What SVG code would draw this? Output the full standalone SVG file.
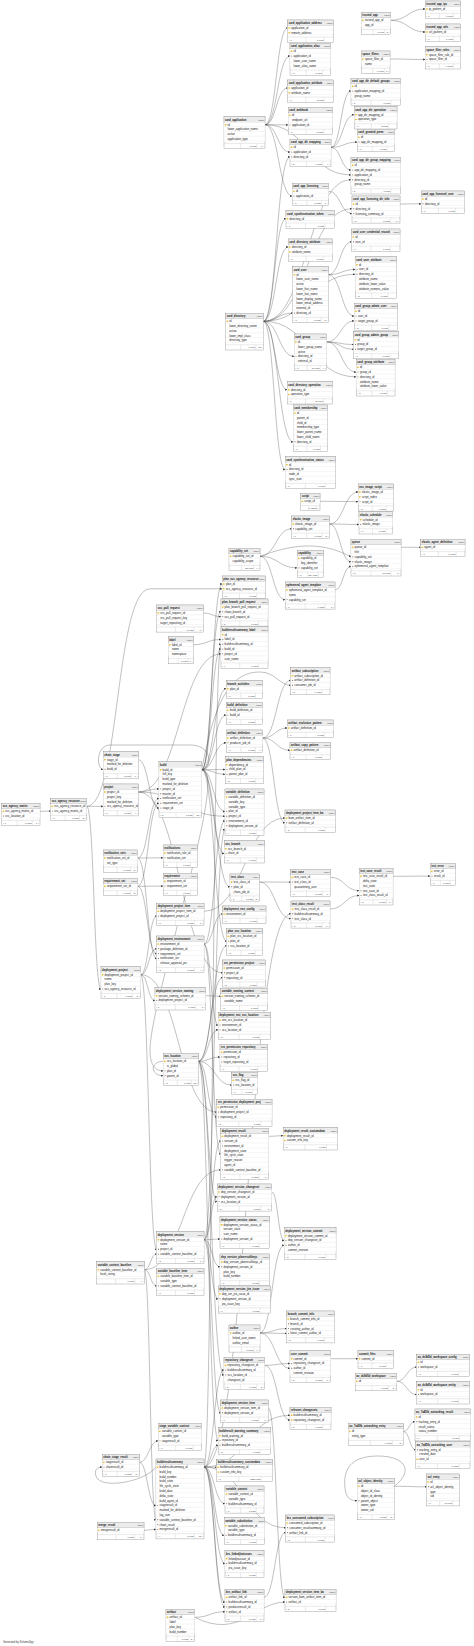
<svg xmlns="http://www.w3.org/2000/svg" xmlns:xlink="http://www.w3.org/1999/xlink" width="474" height="1646" viewBox="0 0 474 1646">
<style>
.b{fill:#fff;stroke:#8e8e8e;stroke-width:.4}
.h{fill:#ececec;stroke:#8e8e8e;stroke-width:.3}
.r{fill:url(#rp)}
.s{fill:none;stroke:#b8b8b8;stroke-width:.3}
text{font-family:"Liberation Sans",Arial,sans-serif;fill:#111}
.t{font-size:2.7px;font-weight:bold}
.x{font-size:2.1px;text-anchor:end;fill:#444}
.n{font-size:2.8px}
.f{font-size:2.2px;fill:#333}
.e{text-anchor:end}
.c path{fill:none;stroke:#4a4a4a;stroke-width:.35;marker-end:url(#a)}
</style>
<defs>
<pattern id="rp" patternUnits="userSpaceOnUse" x="0" y="5.6" width="600" height="4.8"><rect width="600" height="4.8" fill="#fff"/><path d="M0 4.7H600" stroke="#c6c6c6" stroke-width=".3"/></pattern>
<g id="k"><circle cx="1.4" r=".7" fill="#f0c419" stroke="#b08d00" stroke-width=".12"/><path d="M2 0H2.9" stroke="#c9a000" stroke-width=".4"/></g>
<path id="q" d="M1.3 -.7L2.6 0L1.3 .7z" fill="#666"/>
<marker id="a" viewBox="0 0 4 4" refX="4" refY="2" markerWidth="2.2" markerHeight="2.2" orient="auto" markerUnits="userSpaceOnUse"><path d="M0 0L4 2L0 4z" fill="#333"/></marker>
</defs>
<rect width="474" height="1646" fill="#fff"/>
<g id="connectors" class="c">
<path d="M390.7,20.3C408,20.3 408,9 425.3,9"/>
<path d="M390.7,20.3C408,20.3 408,32 425.3,32"/>
<path d="M390,59C407.6,59 407.6,59.5 425.3,59.5"/>
<path d="M265,124.7C276.4,124.7 276.3,28 287.7,28"/>
<path d="M265,124.7C277.5,124.7 277.5,56.1 290,56.1"/>
<path d="M265,124.7C276.4,124.7 276.3,88 287.7,88"/>
<path d="M265,124.7C276.7,124.7 276.7,124.9 288.3,124.9"/>
<path d="M265,124.7C277.5,124.7 277.5,152.1 290,152.1"/>
<path d="M265,124.7C278.7,124.7 278.6,196.1 292.3,196.1"/>
<path d="M265,124.7C308,124.7 308,174.9 351,174.9"/>
<path d="M331,147.3C341,147.3 341,91.1 351,91.1"/>
<path d="M331,147.3C342.7,147.3 342.6,114.7 354.3,114.7"/>
<path d="M331,147.3C344.2,147.3 344.1,142.1 357.3,142.1"/>
<path d="M331,147.3C341,147.3 341,170.1 351,170.1"/>
<path d="M328.7,191.3C340.4,191.3 340.3,213.6 352,213.6"/>
<path d="M400,204C410.7,204 410.6,203.8 421.3,203.8"/>
<path d="M263.3,321.3C276.7,321.3 276.6,156.9 290,156.9"/>
<path d="M263.3,321.3C307.2,321.3 307.1,179.7 351,179.7"/>
<path d="M263.3,321.3C307.7,321.3 307.6,208.8 352,208.8"/>
<path d="M263.3,321.3C274.7,321.3 274.6,218.7 286,218.7"/>
<path d="M263.3,321.3C275.8,321.3 275.8,247 288.3,247"/>
<path d="M263.3,321.3C278,321.3 278,313.1 292.7,313.1"/>
<path d="M263.3,321.3C309.3,321.3 309.3,274.3 355.3,274.3"/>
<path d="M263.3,321.3C278.8,321.3 278.8,356.4 294.3,356.4"/>
<path d="M263.3,321.3C309.8,321.3 309.8,376.9 356.3,376.9"/>
<path d="M263.3,321.3C275.3,321.3 275.3,389.7 287.3,389.7"/>
<path d="M263.3,321.3C278.3,321.3 278.3,441.8 293.3,441.8"/>
<path d="M263.3,321.3C274.3,321.3 274.3,469.5 285.3,469.5"/>
<path d="M328.3,274.7C340,274.7 340,241.8 351.7,241.8"/>
<path d="M328.3,274.7C341.8,274.7 341.8,269.5 355.3,269.5"/>
<path d="M328.3,274.7C341.3,274.7 341.3,316.1 354.3,316.1"/>
<path d="M326.7,342C340.5,342 340.5,320.9 354.3,320.9"/>
<path d="M326.7,342C340.2,342 340.2,344.5 353.7,344.5"/>
<path d="M326.7,342C340.2,342 340.2,349.3 353.7,349.3"/>
<path d="M326.7,342C341.5,342 341.5,372.1 356.3,372.1"/>
<path d="M320,501.3C339.2,501.3 339.2,501.6 358.3,501.6"/>
<path d="M329.3,524C343.8,524 343.8,492 358.3,492"/>
<path d="M329.3,524C344.2,524 344.2,524.5 359,524.5"/>
<path d="M329.3,524C340.2,524 340.2,561.7 351,561.7"/>
<path d="M260,556.3C275.9,556.3 275.9,528.8 291.7,528.8"/>
<path d="M260,556.3C278.7,556.3 278.7,567.9 297.3,567.9"/>
<path d="M260,556.3C290,545 320,540 351,556.9"/>
<path d="M260,556.3C272.7,556.3 272.6,599.6 285.3,599.6"/>
<path d="M335,590C343,590 343,566.5 351,566.5"/>
<path d="M401,547.3H420.7"/>
<path d="M203.3,613C212.2,613 212.1,616.6 221,616.6"/>
<path d="M193.3,644.7C207.2,644.7 207.1,639.5 221,639.5"/>
<path d="M201.7,769.7C211.4,769.7 211.3,611.8 221,611.8"/>
<path d="M201.7,769.7C212,769.7 212,584 222.3,584"/>
<path d="M201.7,769.7C211.4,769.7 211.3,649.1 221,649.1"/>
<path d="M201.7,769.7C214,769.7 214,688.7 226.3,688.7"/>
<path d="M201.7,769.7C214,769.7 214,715.1 226.3,715.1"/>
<path d="M201.7,769.7C214,769.7 214,742.8 226.3,742.8"/>
<path d="M201.7,769.7C215,700 230,672 260,672C275,672 280,685.3 290.7,685.3"/>
<path d="M201.7,769.7C213.5,769.7 213.5,769.5 225.3,769.5"/>
<path d="M201.7,769.7C213.5,769.7 213.5,774.3 225.3,774.3"/>
<path d="M201.7,769.7C213.4,769.7 213.3,811.4 225,811.4"/>
<path d="M201.7,769.7C213,769.7 213,853.5 224.3,853.5"/>
<path d="M201.7,769.7C215.9,769.7 215.8,886.8 230,886.8"/>
<path d="M201.7,769.7C214.2,769.7 214.2,941.1 226.7,941.1"/>
<path d="M201.7,769.7C212,769.7 214,745 190,745L110,745C96,745 96,769.3 103.3,769.3"/>
<path d="M201.7,769.7C230,769.7 150,1000 150,1050C150,1065 155,1070.9 163.3,1070.9"/>
<path d="M138.3,792C148.6,792 148.7,788.9 159,788.9"/>
<path d="M138.3,792C179.6,792 179.7,653.9 221,653.9"/>
<path d="M138.3,792C181.7,792 181.6,816.2 225,816.2"/>
<path d="M138.3,792C180.5,792 180.5,972.8 222.7,972.8"/>
<path d="M138.3,759.7C148.7,759.7 148.6,808.1 159,808.1"/>
<path d="M137.7,858C150.5,858 150.5,857.8 163.3,857.8"/>
<path d="M137.7,858C148.4,858 148.3,798.5 159,798.5"/>
<path d="M137.7,858C147.2,858 147.2,958.4 156.7,958.4"/>
<path d="M137.7,886.3C150.5,886.3 150.5,886.1 163.3,886.1"/>
<path d="M137.7,886.3C148.4,886.3 148.3,803.3 159,803.3"/>
<path d="M137.7,886.3C147.2,886.3 147.2,953.6 156.7,953.6"/>
<path d="M140.7,974.7C148.7,974.7 148.7,916.1 156.7,916.1"/>
<path d="M140.7,974.7C147.9,974.7 147.8,1000.5 155,1000.5"/>
<path d="M140.7,974.7C148.7,974.7 148.7,1249.3 156.7,1249.3"/>
<path d="M140.7,974.7C178.7,974.7 178.7,1112.1 216.7,1112.1"/>
<path d="M140.7,974.7C148.7,974.7 148.7,948.8 156.7,948.8"/>
<path d="M204,911.3C244.5,911.3 244.5,818 285,818"/>
<path d="M262.7,738C273.9,738 273.8,822.8 285,822.8"/>
<path d="M262.7,738C276.7,738 276.7,680.5 290.7,680.5"/>
<path d="M262.7,738C275,738 275,728 287.3,728"/>
<path d="M262.7,738C276.4,738 276.3,750.3 290,750.3"/>
<path d="M204,944C213.4,944 213.3,914 222.7,914"/>
<path d="M204,944C214.5,944 214.5,821 225,821"/>
<path d="M204,944C211.2,944 211.1,1025.1 218.3,1025.1"/>
<path d="M204,944C212.4,944 212.3,1153.9 220.7,1153.9"/>
<path d="M198.3,1061.3C212.5,1061.3 212.5,945.9 226.7,945.9"/>
<path d="M198.3,1061.3C208.3,1061.3 208.3,1029.9 218.3,1029.9"/>
<path d="M198.3,1061.3C209.2,1061.3 209.1,1057.1 220,1057.1"/>
<path d="M198.3,1061.3C215,1061.3 215,1085.1 231.7,1085.1"/>
<path d="M198.3,1061.3C207.8,1061.3 207.8,1201.6 217.3,1201.6"/>
<path d="M198.3,1061.3C211.2,1061.3 211.1,1374.9 224,1374.9"/>
<path d="M198.3,1061.3C210.5,1061.3 210.5,977.6 222.7,977.6"/>
<path d="M198.3,1061.3C207.5,1061.3 207.5,1116.9 216.7,1116.9"/>
<path d="M198.3,1061.3C208.3,1061.3 208.3,1440.5 218.3,1440.5"/>
<path d="M163.3,1061.3C150,1061.3 150,1075.7 163.3,1075.7"/>
<path d="M259.3,882C275,882 275,882.1 290.7,882.1"/>
<path d="M259.3,882C275.2,882 275.1,918.6 291,918.6"/>
<path d="M330.3,877.3C344.8,877.3 344.8,890.7 359.3,890.7"/>
<path d="M330,909C344.7,909 344.6,895.5 359.3,895.5"/>
<path d="M393,876.3C411.7,876.3 411.6,876.1 430.3,876.1"/>
<path d="M205.7,995.7C213.2,995.7 213.2,996.3 220.7,996.3"/>
<path d="M204,1239.7C210.7,1239.7 210.6,1196.8 217.3,1196.8"/>
<path d="M204,1239.7C212,1239.7 212,1239.1 220,1239.1"/>
<path d="M204,1239.7C212,1239.7 212,1266.8 220,1266.8"/>
<path d="M204,1239.7C211.2,1239.7 211.1,1298.8 218.3,1298.8"/>
<path d="M204,1239.7C212.4,1239.7 212.3,1141.1 220.7,1141.1"/>
<path d="M204,1239.7C214.5,1239.7 214.5,829.8 225,829.8"/>
<path d="M204,1239.7C212.4,1239.7 212.3,1412.8 220.7,1412.8"/>
<path d="M271.7,1192C278,1192 278,1240.5 284.3,1240.5"/>
<path d="M268.7,1136.3C276,1136.3 276,1135.7 283.3,1135.7"/>
<path d="M144.3,1269.7C182.5,1269.7 182.5,1169.9 220.7,1169.9"/>
<path d="M144.3,1269.7C150.5,1269.7 150.5,1254.1 156.7,1254.1"/>
<path d="M144.3,1269.7C150.5,1269.7 150.5,1285.9 156.7,1285.9"/>
<path d="M144.3,1269.7C150.2,1269.7 150.1,1519.8 156,1519.8"/>
<path d="M260,1333C273.4,1333 273.3,1328.6 286.7,1328.6"/>
<path d="M260,1333C273.4,1333 273.3,1333.4 286.7,1333.4"/>
<path d="M260,1333C275,1333 275,1368.3 290,1368.3"/>
<path d="M260,1333C272.2,1333 272.1,1245.3 284.3,1245.3"/>
<path d="M264.7,1365.3C277.4,1365.3 277.3,1363.5 290,1363.5"/>
<path d="M264.7,1365.3C277.4,1365.3 277.3,1420.1 290,1420.1"/>
<path d="M330.7,1358.7H358"/>
<path d="M396.7,1381.3C406.7,1381.3 406.7,1367.1 416.7,1367.1"/>
<path d="M396.7,1381.3C406.7,1381.3 406.7,1394.5 416.7,1394.5"/>
<path d="M403.3,1431.3C409.2,1431.3 409.1,1421.8 415,1421.8"/>
<path d="M403.3,1431.3C409.5,1431.3 409.5,1449.7 415.7,1449.7"/>
<path d="M394.3,1486.3C410.5,1486.3 410.5,1486.8 426.7,1486.8"/>
<path d="M394.3,1486.3C415,1470 404,1456 378,1456C350,1456 343,1470 345,1488C346,1498 350,1500.7 357.3,1500.7"/>
<path d="M204,1467C214,1467 214,1370.1 224,1370.1"/>
<path d="M204,1467C247,1467 247,1415.3 290,1415.3"/>
<path d="M204,1467C211.2,1467 211.1,1445.3 218.3,1445.3"/>
<path d="M204,1467C210.4,1467 210.3,1467.3 216.7,1467.3"/>
<path d="M204,1467C214.5,1467 214.5,1503.6 225,1503.6"/>
<path d="M204,1467C214.2,1467 214.1,1535.3 224.3,1535.3"/>
<path d="M204,1467C214.5,1467 214.5,1563.5 225,1563.5"/>
<path d="M204,1467C214.5,1467 214.5,1602.1 225,1602.1"/>
<path d="M204,1467C214.5,1467 214.5,1606.9 225,1606.9"/>
<path d="M204,1467C244.8,1467 244.8,1527.8 285.7,1527.8"/>
<path d="M204,1467C212.5,1467 212.5,644.3 221,644.3"/>
<path d="M204,1467C247,1467 248,913.8 291,913.8"/>
<path d="M139.3,1462.3C147.7,1462.3 147.6,1505.4 156,1505.4"/>
<path d="M139.3,1462.3C148.8,1462.3 148.8,1440.9 158.3,1440.9"/>
<path d="M156,1467C145,1482 100,1490 96,1476C94,1470 97,1467.1 102.3,1467.1"/>
<path d="M144,1530.3C150,1530.3 150,1529.4 156,1529.4"/>
<path d="M194.7,1617.3C209.9,1617.3 209.8,1611.7 225,1611.7"/>
<path d="M194.7,1617.3C240,1640 255,1602.1 285,1602.1"/>
<path d="M264,1597.3C274.9,1597.3 274.8,1532.6 285.7,1532.6"/>
<path d="M268.3,1408C276.7,1408 276.6,1597.3 285,1597.3"/>
<path d="M40,811.3C45.4,811.3 45.3,811.1 50.7,811.1"/>
<path d="M86.7,806.3C95,806.3 95,806.4 103.3,806.4"/>
<path d="M86.7,806.3C94,806.3 93.8,989.1 101,989.1"/>
<path d="M86.7,806.3C120,806.3 115,588.8 150,588.8L222.3,588.8"/>
</g>
<g id="trusted_app_ips" transform="translate(425.3,1)"><rect class="b" width="35" height="17.5"/><rect class="h" width="35" height="5.6"/><text class="t" x="1" y="4.1">trusted_app_ips</text><text class="x" x="34.2" y="4">[table]</text><rect class="r" x=".2" y="5.6" width="34.6" height="4.8"/><use href="#k" y="8"/><text class="n" x="3.6" y="9">ip_pattern_id</text><path class="s" d="M0 12.3H35M14 12.3V17.5M28 12.3V17.5"/><text class="f" x="1" y="16">&lt; 1</text><text class="f e" x="27.2" y="16">0 rows</text></g>
<g id="trusted_app_urls" transform="translate(425.3,24)"><rect class="b" width="35.4" height="17.5"/><rect class="h" width="35.4" height="5.6"/><text class="t" x="1" y="4.1">trusted_app_urls</text><text class="x" x="34.6" y="4">[table]</text><rect class="r" x=".2" y="5.6" width="35" height="4.8"/><use href="#k" y="8"/><text class="n" x="3.6" y="9">url_pattern_id</text><path class="s" d="M0 12.3H35.4M14.2 12.3V17.5M28.3 12.3V17.5"/><text class="f" x="1" y="16">&lt; 1</text><text class="f e" x="27.5" y="16">0 rows</text></g>
<g id="trusted_app" transform="translate(361.3,12.3)"><rect class="b" width="29.4" height="22.3"/><rect class="h" width="29.4" height="5.6"/><text class="t" x="1" y="4.1">trusted_app</text><text class="x" x="28.6" y="4">[table]</text><rect class="r" x=".2" y="5.6" width="29" height="9.6"/><use href="#k" y="8"/><text class="n" x="3.6" y="9">trusted_app_id</text><text class="n" x="3.6" y="13.8">app_id</text><path class="s" d="M0 17.1H29.4M11.8 17.1V22.3M23.5 17.1V22.3"/><text class="f e" x="22.7" y="20.8">0 rows</text><text class="f e" x="28.6" y="20.8">2 &gt;</text></g>
<g id="space_filters" transform="translate(361.3,51)"><rect class="b" width="28.7" height="22.3"/><rect class="h" width="28.7" height="5.6"/><text class="t" x="1" y="4.1">space_filters</text><text class="x" x="27.9" y="4">[table]</text><rect class="r" x=".2" y="5.6" width="28.3" height="9.6"/><use href="#k" y="8"/><text class="n" x="3.6" y="9">space_filter_id</text><text class="n" x="3.6" y="13.8">name</text><path class="s" d="M0 17.1H28.7M11.5 17.1V22.3M23 17.1V22.3"/><text class="f e" x="22.2" y="20.8">0 rows</text><text class="f e" x="27.9" y="20.8">1 &gt;</text></g>
<g id="space_filter_rules" transform="translate(425.3,46.7)"><rect class="b" width="35" height="22.3"/><rect class="h" width="35" height="5.6"/><text class="t" x="1" y="4.1">space_filter_rules</text><text class="x" x="34.2" y="4">[table]</text><rect class="r" x=".2" y="5.6" width="34.6" height="9.6"/><use href="#k" y="8"/><text class="n" x="3.6" y="9">space_filter_rule_id</text><use href="#q" y="12.8"/><text class="n" x="3.6" y="13.8">space_filter_id</text><path class="s" d="M0 17.1H35M14 17.1V22.3M28 17.1V22.3"/><text class="f" x="1" y="20.8">&lt; 1</text><text class="f e" x="27.2" y="20.8">0 rows</text></g>
<g id="card_application_address" transform="translate(287.7,20)"><rect class="b" width="45.6" height="22.3"/><rect class="h" width="45.6" height="5.6"/><text class="t" x="1" y="4.1">card_application_address</text><text class="x" x="44.8" y="4">[table]</text><rect class="r" x=".2" y="5.6" width="45.2" height="9.6"/><use href="#k" y="8"/><text class="n" x="3.6" y="9">application_id</text><use href="#k" y="12.8"/><text class="n" x="3.6" y="13.8">remote_address</text><path class="s" d="M0 17.1H45.6M18.2 17.1V22.3M36.5 17.1V22.3"/><text class="f" x="1" y="20.8">&lt; 1</text><text class="f e" x="35.7" y="20.8">0 rows</text></g>
<g id="card_application_alias" transform="translate(290,43.3)"><rect class="b" width="40.7" height="31.9"/><rect class="h" width="40.7" height="5.6"/><text class="t" x="1" y="4.1">card_application_alias</text><text class="x" x="39.9" y="4">[table]</text><rect class="r" x=".2" y="5.6" width="40.3" height="19.2"/><use href="#k" y="8"/><text class="n" x="3.6" y="9">id</text><use href="#q" y="12.8"/><text class="n" x="3.6" y="13.8">application_id</text><text class="n" x="3.6" y="18.6">lower_user_name</text><text class="n" x="3.6" y="23.4">lower_alias_name</text><path class="s" d="M0 26.7H40.7M16.3 26.7V31.9M32.6 26.7V31.9"/><text class="f" x="1" y="30.4">&lt; 1</text><text class="f e" x="31.8" y="30.4">0 rows</text></g>
<g id="card_application_attribute" transform="translate(287.7,80)"><rect class="b" width="45.6" height="22.3"/><rect class="h" width="45.6" height="5.6"/><text class="t" x="1" y="4.1">card_application_attribute</text><text class="x" x="44.8" y="4">[table]</text><rect class="r" x=".2" y="5.6" width="45.2" height="9.6"/><use href="#k" y="8"/><text class="n" x="3.6" y="9">application_id</text><use href="#k" y="12.8"/><text class="n" x="3.6" y="13.8">attribute_name</text><path class="s" d="M0 17.1H45.6M18.2 17.1V22.3M36.5 17.1V22.3"/><text class="f" x="1" y="20.8">&lt; 1</text><text class="f e" x="35.7" y="20.8">2 rows</text></g>
<g id="card_webhook" transform="translate(288.3,107.3)"><rect class="b" width="44.4" height="27.1"/><rect class="h" width="44.4" height="5.6"/><text class="t" x="1" y="4.1">card_webhook</text><text class="x" x="43.6" y="4">[table]</text><rect class="r" x=".2" y="5.6" width="44" height="14.4"/><use href="#k" y="8"/><text class="n" x="3.6" y="9">id</text><text class="n" x="3.6" y="13.8">endpoint_url</text><use href="#q" y="17.6"/><text class="n" x="3.6" y="18.6">application_id</text><path class="s" d="M0 21.9H44.4M17.8 21.9V27.1M35.5 21.9V27.1"/><text class="f" x="1" y="25.6">&lt; 1</text><text class="f e" x="34.7" y="25.6">0 rows</text></g>
<g id="card_application" transform="translate(224,116.7)"><rect class="b" width="41" height="31.9"/><rect class="h" width="41" height="5.6"/><text class="t" x="1" y="4.1">card_application</text><text class="x" x="40.2" y="4">[table]</text><rect class="r" x=".2" y="5.6" width="40.6" height="19.2"/><use href="#k" y="8"/><text class="n" x="3.6" y="9">id</text><text class="n" x="3.6" y="13.8">lower_application_name</text><text class="n" x="3.6" y="18.6">active</text><text class="n" x="3.6" y="23.4">application_type</text><path class="s" d="M0 26.7H41M16.4 26.7V31.9M32.8 26.7V31.9"/><text class="f e" x="32" y="30.4">1 rows</text><text class="f e" x="40.2" y="30.4">8 &gt;</text></g>
<g id="card_app_dir_mapping" transform="translate(290,139.3)"><rect class="b" width="41" height="27.1"/><rect class="h" width="41" height="5.6"/><text class="t" x="1" y="4.1">card_app_dir_mapping</text><text class="x" x="40.2" y="4">[table]</text><rect class="r" x=".2" y="5.6" width="40.6" height="14.4"/><use href="#k" y="8"/><text class="n" x="3.6" y="9">id</text><use href="#q" y="12.8"/><text class="n" x="3.6" y="13.8">application_id</text><use href="#q" y="17.6"/><text class="n" x="3.6" y="18.6">directory_id</text><path class="s" d="M0 21.9H41M16.4 21.9V27.1M32.8 21.9V27.1"/><text class="f" x="1" y="25.6">&lt; 2</text><text class="f e" x="32" y="25.6">1 rows</text><text class="f e" x="40.2" y="25.6">4 &gt;</text></g>
<g id="card_app_licensing" transform="translate(292.3,183.3)"><rect class="b" width="36.4" height="22.3"/><rect class="h" width="36.4" height="5.6"/><text class="t" x="1" y="4.1">card_app_licensing</text><text class="x" x="35.6" y="4">[table]</text><rect class="r" x=".2" y="5.6" width="36" height="9.6"/><use href="#k" y="8"/><text class="n" x="3.6" y="9">id</text><use href="#q" y="12.8"/><text class="n" x="3.6" y="13.8">application_id</text><path class="s" d="M0 17.1H36.4M14.6 17.1V22.3M29.1 17.1V22.3"/><text class="f" x="1" y="20.8">&lt; 1</text><text class="f e" x="28.3" y="20.8">0 rows</text><text class="f e" x="35.6" y="20.8">1 &gt;</text></g>
<g id="card_app_licensing_dir_info" transform="translate(352,196)"><rect class="b" width="48" height="27.1"/><rect class="h" width="48" height="5.6"/><text class="t" x="1" y="4.1">card_app_licensing_dir_info</text><text class="x" x="47.2" y="4">[table]</text><rect class="r" x=".2" y="5.6" width="47.6" height="14.4"/><use href="#k" y="8"/><text class="n" x="3.6" y="9">id</text><use href="#q" y="12.8"/><text class="n" x="3.6" y="13.8">directory_id</text><use href="#q" y="17.6"/><text class="n" x="3.6" y="18.6">licensing_summary_id</text><path class="s" d="M0 21.9H48M19.2 21.9V27.1M38.4 21.9V27.1"/><text class="f" x="1" y="25.6">&lt; 2</text><text class="f e" x="37.6" y="25.6">0 rows</text><text class="f e" x="47.2" y="25.6">1 &gt;</text></g>
<g id="card_app_licensed_user" transform="translate(421.3,191)"><rect class="b" width="43" height="22.3"/><rect class="h" width="43" height="5.6"/><text class="t" x="1" y="4.1">card_app_licensed_user</text><text class="x" x="42.2" y="4">[table]</text><rect class="r" x=".2" y="5.6" width="42.6" height="9.6"/><use href="#k" y="8"/><text class="n" x="3.6" y="9">id</text><use href="#q" y="12.8"/><text class="n" x="3.6" y="13.8">directory_id</text><path class="s" d="M0 17.1H43M17.2 17.1V22.3M34.4 17.1V22.3"/><text class="f" x="1" y="20.8">&lt; 1</text><text class="f e" x="33.6" y="20.8">0 rows</text></g>
<g id="card_app_dir_default_groups" transform="translate(351,78.3)"><rect class="b" width="49.7" height="27.1"/><rect class="h" width="49.7" height="5.6"/><text class="t" x="1" y="4.1">card_app_dir_default_groups</text><text class="x" x="48.9" y="4">[table]</text><rect class="r" x=".2" y="5.6" width="49.3" height="14.4"/><use href="#k" y="8"/><text class="n" x="3.6" y="9">id</text><use href="#q" y="12.8"/><text class="n" x="3.6" y="13.8">application_mapping_id</text><text class="n" x="3.6" y="18.6">group_name</text><path class="s" d="M0 21.9H49.7M19.9 21.9V27.1M39.8 21.9V27.1"/><text class="f" x="1" y="25.6">&lt; 1</text><text class="f e" x="39" y="25.6">0 rows</text></g>
<g id="card_app_dir_operation" transform="translate(354.3,106.7)"><rect class="b" width="42.7" height="22.3"/><rect class="h" width="42.7" height="5.6"/><text class="t" x="1" y="4.1">card_app_dir_operation</text><text class="x" x="41.9" y="4">[table]</text><rect class="r" x=".2" y="5.6" width="42.3" height="9.6"/><use href="#k" y="8"/><text class="n" x="3.6" y="9">app_dir_mapping_id</text><use href="#k" y="12.8"/><text class="n" x="3.6" y="13.8">operation_type</text><path class="s" d="M0 17.1H42.7M17.1 17.1V22.3M34.2 17.1V22.3"/><text class="f" x="1" y="20.8">&lt; 1</text><text class="f e" x="33.4" y="20.8">3 rows</text></g>
<g id="card_granted_perm" transform="translate(357.3,129.3)"><rect class="b" width="37.4" height="22.3"/><rect class="h" width="37.4" height="5.6"/><text class="t" x="1" y="4.1">card_granted_perm</text><text class="x" x="36.6" y="4">[table]</text><rect class="r" x=".2" y="5.6" width="37" height="9.6"/><use href="#k" y="8"/><text class="n" x="3.6" y="9">id</text><use href="#q" y="12.8"/><text class="n" x="3.6" y="13.8">app_dir_mapping_id</text><path class="s" d="M0 17.1H37.4M15 17.1V22.3M29.9 17.1V22.3"/><text class="f" x="1" y="20.8">&lt; 1</text><text class="f e" x="29.1" y="20.8">0 rows</text></g>
<g id="card_app_dir_group_mapping" transform="translate(351,157.3)"><rect class="b" width="49.7" height="36.7"/><rect class="h" width="49.7" height="5.6"/><text class="t" x="1" y="4.1">card_app_dir_group_mapping</text><text class="x" x="48.9" y="4">[table]</text><rect class="r" x=".2" y="5.6" width="49.3" height="24"/><use href="#k" y="8"/><text class="n" x="3.6" y="9">id</text><use href="#q" y="12.8"/><text class="n" x="3.6" y="13.8">app_dir_mapping_id</text><use href="#q" y="17.6"/><text class="n" x="3.6" y="18.6">application_id</text><use href="#q" y="22.4"/><text class="n" x="3.6" y="23.4">directory_id</text><text class="n" x="3.6" y="28.2">group_name</text><path class="s" d="M0 31.5H49.7M19.9 31.5V36.7M39.8 31.5V36.7"/><text class="f" x="1" y="35.2">&lt; 3</text><text class="f e" x="39" y="35.2">1 rows</text></g>
<g id="card_synchronisation_token" transform="translate(286,210.7)"><rect class="b" width="48.7" height="17.5"/><rect class="h" width="48.7" height="5.6"/><text class="t" x="1" y="4.1">card_synchronisation_token</text><text class="x" x="47.9" y="4">[table]</text><rect class="r" x=".2" y="5.6" width="48.3" height="4.8"/><use href="#k" y="8"/><text class="n" x="3.6" y="9">directory_id</text><path class="s" d="M0 12.3H48.7M19.5 12.3V17.5M39 12.3V17.5"/><text class="f" x="1" y="16">&lt; 1</text><text class="f e" x="38.2" y="16">0 rows</text></g>
<g id="card_user_credential_record" transform="translate(351.7,229)"><rect class="b" width="48.3" height="22.3"/><rect class="h" width="48.3" height="5.6"/><text class="t" x="1" y="4.1">card_user_credential_record</text><text class="x" x="47.5" y="4">[table]</text><rect class="r" x=".2" y="5.6" width="47.9" height="9.6"/><use href="#k" y="8"/><text class="n" x="3.6" y="9">id</text><use href="#q" y="12.8"/><text class="n" x="3.6" y="13.8">user_id</text><path class="s" d="M0 17.1H48.3M19.3 17.1V22.3M38.6 17.1V22.3"/><text class="f" x="1" y="20.8">&lt; 1</text><text class="f e" x="37.8" y="20.8">0 rows</text></g>
<g id="card_directory_attribute" transform="translate(288.3,239)"><rect class="b" width="44.4" height="22.3"/><rect class="h" width="44.4" height="5.6"/><text class="t" x="1" y="4.1">card_directory_attribute</text><text class="x" x="43.6" y="4">[table]</text><rect class="r" x=".2" y="5.6" width="44" height="9.6"/><use href="#k" y="8"/><text class="n" x="3.6" y="9">directory_id</text><use href="#k" y="12.8"/><text class="n" x="3.6" y="13.8">attribute_name</text><path class="s" d="M0 17.1H44.4M17.8 17.1V22.3M35.5 17.1V22.3"/><text class="f" x="1" y="20.8">&lt; 1</text><text class="f e" x="34.7" y="20.8">8 rows</text></g>
<g id="card_user" transform="translate(292.7,266.7)"><rect class="b" width="35.6" height="55.9"/><rect class="h" width="35.6" height="5.6"/><text class="t" x="1" y="4.1">card_user</text><text class="x" x="34.8" y="4">[table]</text><rect class="r" x=".2" y="5.6" width="35.2" height="43.2"/><use href="#k" y="8"/><text class="n" x="3.6" y="9">id</text><text class="n" x="3.6" y="13.8">lower_user_name</text><text class="n" x="3.6" y="18.6">active</text><text class="n" x="3.6" y="23.4">lower_first_name</text><text class="n" x="3.6" y="28.2">lower_last_name</text><text class="n" x="3.6" y="33">lower_display_name</text><text class="n" x="3.6" y="37.8">lower_email_address</text><text class="n" x="3.6" y="42.6">external_id</text><use href="#q" y="46.4"/><text class="n" x="3.6" y="47.4">directory_id</text><path class="s" d="M0 50.7H35.6M14.2 50.7V55.9M28.5 50.7V55.9"/><text class="f" x="1" y="54.4">&lt; 1</text><text class="f e" x="27.7" y="54.4">0 rows</text><text class="f e" x="34.8" y="54.4">3 &gt;</text></g>
<g id="card_user_attribute" transform="translate(355.3,256.7)"><rect class="b" width="41" height="41.5"/><rect class="h" width="41" height="5.6"/><text class="t" x="1" y="4.1">card_user_attribute</text><text class="x" x="40.2" y="4">[table]</text><rect class="r" x=".2" y="5.6" width="40.6" height="28.8"/><use href="#k" y="8"/><text class="n" x="3.6" y="9">id</text><use href="#q" y="12.8"/><text class="n" x="3.6" y="13.8">user_id</text><use href="#q" y="17.6"/><text class="n" x="3.6" y="18.6">directory_id</text><text class="n" x="3.6" y="23.4">attribute_name</text><text class="n" x="3.6" y="28.2">attribute_lower_value</text><text class="n" x="3.6" y="33">attribute_numeric_value</text><path class="s" d="M0 36.3H41M16.4 36.3V41.5M32.8 36.3V41.5"/><text class="f" x="1" y="40">&lt; 2</text><text class="f e" x="32" y="40">0 rows</text></g>
<g id="card_directory" transform="translate(225.7,313.3)"><rect class="b" width="37.6" height="36.7"/><rect class="h" width="37.6" height="5.6"/><text class="t" x="1" y="4.1">card_directory</text><text class="x" x="36.8" y="4">[table]</text><rect class="r" x=".2" y="5.6" width="37.2" height="24"/><use href="#k" y="8"/><text class="n" x="3.6" y="9">id</text><text class="n" x="3.6" y="13.8">lower_directory_name</text><text class="n" x="3.6" y="18.6">active</text><text class="n" x="3.6" y="23.4">lower_impl_class</text><text class="n" x="3.6" y="28.2">directory_type</text><path class="s" d="M0 31.5H37.6M15 31.5V36.7M30.1 31.5V36.7"/><text class="f e" x="29.3" y="35.2">1 rows</text><text class="f e" x="36.8" y="35.2">12 &gt;</text></g>
<g id="card_group_admin_user" transform="translate(354.3,303.3)"><rect class="b" width="43" height="27.1"/><rect class="h" width="43" height="5.6"/><text class="t" x="1" y="4.1">card_group_admin_user</text><text class="x" x="42.2" y="4">[table]</text><rect class="r" x=".2" y="5.6" width="42.6" height="14.4"/><use href="#k" y="8"/><text class="n" x="3.6" y="9">id</text><use href="#q" y="12.8"/><text class="n" x="3.6" y="13.8">user_id</text><use href="#q" y="17.6"/><text class="n" x="3.6" y="18.6">target_group_id</text><path class="s" d="M0 21.9H43M17.2 21.9V27.1M34.4 21.9V27.1"/><text class="f" x="1" y="25.6">&lt; 2</text><text class="f e" x="33.6" y="25.6">0 rows</text></g>
<g id="card_group" transform="translate(294.3,334)"><rect class="b" width="32.4" height="36.7"/><rect class="h" width="32.4" height="5.6"/><text class="t" x="1" y="4.1">card_group</text><text class="x" x="31.6" y="4">[table]</text><rect class="r" x=".2" y="5.6" width="32" height="24"/><use href="#k" y="8"/><text class="n" x="3.6" y="9">id</text><text class="n" x="3.6" y="13.8">lower_group_name</text><text class="n" x="3.6" y="18.6">active</text><use href="#q" y="22.4"/><text class="n" x="3.6" y="23.4">directory_id</text><text class="n" x="3.6" y="28.2">external_id</text><path class="s" d="M0 31.5H32.4M13 31.5V36.7M25.9 31.5V36.7"/><text class="f" x="1" y="35.2">&lt; 1</text><text class="f e" x="25.1" y="35.2">10 rows</text><text class="f e" x="31.6" y="35.2">4 &gt;</text></g>
<g id="card_group_admin_group" transform="translate(353.7,331.7)"><rect class="b" width="45" height="27.1"/><rect class="h" width="45" height="5.6"/><text class="t" x="1" y="4.1">card_group_admin_group</text><text class="x" x="44.2" y="4">[table]</text><rect class="r" x=".2" y="5.6" width="44.6" height="14.4"/><use href="#k" y="8"/><text class="n" x="3.6" y="9">id</text><use href="#q" y="12.8"/><text class="n" x="3.6" y="13.8">group_id</text><use href="#q" y="17.6"/><text class="n" x="3.6" y="18.6">target_group_id</text><path class="s" d="M0 21.9H45M18 21.9V27.1M36 21.9V27.1"/><text class="f" x="1" y="25.6">&lt; 1</text><text class="f e" x="35.2" y="25.6">0 rows</text></g>
<g id="card_group_attribute" transform="translate(356.3,359.3)"><rect class="b" width="38.7" height="36.7"/><rect class="h" width="38.7" height="5.6"/><text class="t" x="1" y="4.1">card_group_attribute</text><text class="x" x="37.9" y="4">[table]</text><rect class="r" x=".2" y="5.6" width="38.3" height="24"/><use href="#k" y="8"/><text class="n" x="3.6" y="9">id</text><use href="#q" y="12.8"/><text class="n" x="3.6" y="13.8">group_id</text><use href="#q" y="17.6"/><text class="n" x="3.6" y="18.6">directory_id</text><text class="n" x="3.6" y="23.4">attribute_name</text><text class="n" x="3.6" y="28.2">attribute_lower_value</text><path class="s" d="M0 31.5H38.7M15.5 31.5V36.7M31 31.5V36.7"/><text class="f" x="1" y="35.2">&lt; 2</text><text class="f e" x="30.2" y="35.2">0 rows</text></g>
<g id="card_directory_operation" transform="translate(287.3,381.7)"><rect class="b" width="45.4" height="22.3"/><rect class="h" width="45.4" height="5.6"/><text class="t" x="1" y="4.1">card_directory_operation</text><text class="x" x="44.6" y="4">[table]</text><rect class="r" x=".2" y="5.6" width="45" height="9.6"/><use href="#k" y="8"/><text class="n" x="3.6" y="9">directory_id</text><use href="#k" y="12.8"/><text class="n" x="3.6" y="13.8">operation_type</text><path class="s" d="M0 17.1H45.4M18.2 17.1V22.3M36.3 17.1V22.3"/><text class="f" x="1" y="20.8">&lt; 1</text><text class="f e" x="35.5" y="20.8">16 rows</text></g>
<g id="card_membership" transform="translate(293.3,405)"><rect class="b" width="34" height="46.3"/><rect class="h" width="34" height="5.6"/><text class="t" x="1" y="4.1">card_membership</text><text class="x" x="33.2" y="4">[table]</text><rect class="r" x=".2" y="5.6" width="33.6" height="33.6"/><use href="#k" y="8"/><text class="n" x="3.6" y="9">id</text><text class="n" x="3.6" y="13.8">parent_id</text><text class="n" x="3.6" y="18.6">child_id</text><text class="n" x="3.6" y="23.4">membership_type</text><text class="n" x="3.6" y="28.2">lower_parent_name</text><text class="n" x="3.6" y="33">lower_child_name</text><use href="#q" y="36.8"/><text class="n" x="3.6" y="37.8">directory_id</text><path class="s" d="M0 41.1H34M13.6 41.1V46.3M27.2 41.1V46.3"/><text class="f" x="1" y="44.8">&lt; 1</text><text class="f e" x="26.4" y="44.8">0 rows</text></g>
<g id="card_synchronisation_status" transform="translate(285.3,456.7)"><rect class="b" width="50" height="31.9"/><rect class="h" width="50" height="5.6"/><text class="t" x="1" y="4.1">card_synchronisation_status</text><text class="x" x="49.2" y="4">[table]</text><rect class="r" x=".2" y="5.6" width="49.6" height="19.2"/><use href="#k" y="8"/><text class="n" x="3.6" y="9">id</text><use href="#q" y="12.8"/><text class="n" x="3.6" y="13.8">directory_id</text><text class="n" x="3.6" y="18.6">node_id</text><text class="n" x="3.6" y="23.4">sync_start</text><path class="s" d="M0 26.7H50M20 26.7V31.9M40 26.7V31.9"/><text class="f" x="1" y="30.4">&lt; 1</text><text class="f e" x="39.2" y="30.4">0 rows</text></g>
<g id="script" transform="translate(300.7,493.3)"><rect class="b" width="19.3" height="17.5"/><rect class="h" width="19.3" height="5.6"/><text class="t" x="1" y="4.1">script</text><text class="x" x="18.5" y="4">[table]</text><rect class="r" x=".2" y="5.6" width="18.9" height="4.8"/><use href="#k" y="8"/><text class="n" x="3.6" y="9">script_id</text><path class="s" d="M0 12.3H19.3M7.7 12.3V17.5M15.4 12.3V17.5"/><text class="f e" x="14.6" y="16">0 rows</text><text class="f e" x="18.5" y="16">1 &gt;</text></g>
<g id="ecs_image_script" transform="translate(358.3,484)"><rect class="b" width="35" height="27.1"/><rect class="h" width="35" height="5.6"/><text class="t" x="1" y="4.1">ecs_image_script</text><text class="x" x="34.2" y="4">[table]</text><rect class="r" x=".2" y="5.6" width="34.6" height="14.4"/><use href="#k" y="8"/><text class="n" x="3.6" y="9">elastic_image_id</text><use href="#k" y="12.8"/><text class="n" x="3.6" y="13.8">script_index</text><use href="#q" y="17.6"/><text class="n" x="3.6" y="18.6">script_id</text><path class="s" d="M0 21.9H35M14 21.9V27.1M28 21.9V27.1"/><text class="f" x="1" y="25.6">&lt; 2</text><text class="f e" x="27.2" y="25.6">0 rows</text></g>
<g id="elastic_image" transform="translate(291.7,516)"><rect class="b" width="37.6" height="22.3"/><rect class="h" width="37.6" height="5.6"/><text class="t" x="1" y="4.1">elastic_image</text><text class="x" x="36.8" y="4">[table]</text><rect class="r" x=".2" y="5.6" width="37.2" height="9.6"/><use href="#k" y="8"/><text class="n" x="3.6" y="9">elastic_image_id</text><use href="#q" y="12.8"/><text class="n" x="3.6" y="13.8">capability_set</text><path class="s" d="M0 17.1H37.6M15 17.1V22.3M30.1 17.1V22.3"/><text class="f" x="1" y="20.8">&lt; 1</text><text class="f e" x="29.3" y="20.8">0 rows</text><text class="f e" x="36.8" y="20.8">3 &gt;</text></g>
<g id="elastic_schedule" transform="translate(359,511.7)"><rect class="b" width="33.7" height="22.3"/><rect class="h" width="33.7" height="5.6"/><text class="t" x="1" y="4.1">elastic_schedule</text><text class="x" x="32.9" y="4">[table]</text><rect class="r" x=".2" y="5.6" width="33.3" height="9.6"/><use href="#k" y="8"/><text class="n" x="3.6" y="9">schedule_id</text><use href="#q" y="12.8"/><text class="n" x="3.6" y="13.8">elastic_image</text><path class="s" d="M0 17.1H33.7M13.5 17.1V22.3M27 17.1V22.3"/><text class="f" x="1" y="20.8">&lt; 1</text><text class="f e" x="26.2" y="20.8">0 rows</text></g>
<g id="capability_set" transform="translate(229,548.3)"><rect class="b" width="31" height="22.3"/><rect class="h" width="31" height="5.6"/><text class="t" x="1" y="4.1">capability_set</text><text class="x" x="30.2" y="4">[table]</text><rect class="r" x=".2" y="5.6" width="30.6" height="9.6"/><use href="#k" y="8"/><text class="n" x="3.6" y="9">capability_set_id</text><text class="n" x="3.6" y="13.8">capability_scope</text><path class="s" d="M0 17.1H31M12.4 17.1V22.3M24.8 17.1V22.3"/><text class="f e" x="24" y="20.8">25 rows</text><text class="f e" x="30.2" y="20.8">4 &gt;</text></g>
<g id="capability" transform="translate(297.3,550.3)"><rect class="b" width="26" height="27.1"/><rect class="h" width="26" height="5.6"/><text class="t" x="1" y="4.1">capability</text><text class="x" x="25.2" y="4">[table]</text><rect class="r" x=".2" y="5.6" width="25.6" height="14.4"/><use href="#k" y="8"/><text class="n" x="3.6" y="9">capability_id</text><text class="n" x="3.6" y="13.8">key_identifier</text><use href="#q" y="17.6"/><text class="n" x="3.6" y="18.6">capability_set</text><path class="s" d="M0 21.9H26M10.4 21.9V27.1M20.8 21.9V27.1"/><text class="f" x="1" y="25.6">&lt; 1</text><text class="f e" x="20" y="25.6">214 rows</text></g>
<g id="queue" transform="translate(351,539.3)"><rect class="b" width="50" height="36.7"/><rect class="h" width="50" height="5.6"/><text class="t" x="1" y="4.1">queue</text><text class="x" x="49.2" y="4">[table]</text><rect class="r" x=".2" y="5.6" width="49.6" height="24"/><use href="#k" y="8"/><text class="n" x="3.6" y="9">queue_id</text><text class="n" x="3.6" y="13.8">title</text><use href="#q" y="17.6"/><text class="n" x="3.6" y="18.6">capability_set</text><use href="#q" y="22.4"/><text class="n" x="3.6" y="23.4">elastic_image</text><use href="#q" y="27.2"/><text class="n" x="3.6" y="28.2">ephemeral_agent_template</text><path class="s" d="M0 31.5H50M20 31.5V36.7M40 31.5V36.7"/><text class="f" x="1" y="35.2">&lt; 3</text><text class="f e" x="39.2" y="35.2">80 rows</text><text class="f e" x="49.2" y="35.2">1 &gt;</text></g>
<g id="elastic_agent_definition" transform="translate(420.7,539.3)"><rect class="b" width="44.3" height="17.5"/><rect class="h" width="44.3" height="5.6"/><text class="t" x="1" y="4.1">elastic_agent_definition</text><text class="x" x="43.5" y="4">[table]</text><rect class="r" x=".2" y="5.6" width="43.9" height="4.8"/><use href="#k" y="8"/><text class="n" x="3.6" y="9">agent_id</text><path class="s" d="M0 12.3H44.3M17.7 12.3V17.5M35.4 12.3V17.5"/><text class="f" x="1" y="16">&lt; 1</text><text class="f e" x="34.6" y="16">0 rows</text></g>
<g id="ephemeral_agent_template" transform="translate(285.3,582)"><rect class="b" width="49.7" height="27.1"/><rect class="h" width="49.7" height="5.6"/><text class="t" x="1" y="4.1">ephemeral_agent_template</text><text class="x" x="48.9" y="4">[table]</text><rect class="r" x=".2" y="5.6" width="49.3" height="14.4"/><use href="#k" y="8"/><text class="n" x="3.6" y="9">ephemeral_agent_template_id</text><text class="n" x="3.6" y="13.8">name</text><use href="#q" y="17.6"/><text class="n" x="3.6" y="18.6">capability_set</text><path class="s" d="M0 21.9H49.7M19.9 21.9V27.1M39.8 21.9V27.1"/><text class="f" x="1" y="25.6">&lt; 1</text><text class="f e" x="39" y="25.6">0 rows</text><text class="f e" x="48.9" y="25.6">1 &gt;</text></g>
<g id="plan_vcs_agency_resource" transform="translate(222.3,576)"><rect class="b" width="43" height="22.3"/><rect class="h" width="43" height="5.6"/><text class="t" x="1" y="4.1">plan_vcs_agency_resource</text><text class="x" x="42.2" y="4">[table]</text><rect class="r" x=".2" y="5.6" width="42.6" height="9.6"/><use href="#k" y="8"/><text class="n" x="3.6" y="9">plan_id</text><use href="#k" y="12.8"/><text class="n" x="3.6" y="13.8">vcs_agency_resource_id</text><path class="s" d="M0 17.1H43M17.2 17.1V22.3M34.4 17.1V22.3"/><text class="f" x="1" y="20.8">&lt; 2</text><text class="f e" x="33.6" y="20.8">0 rows</text></g>
<g id="plan_branch_pull_request" transform="translate(221,599)"><rect class="b" width="47" height="27.1"/><rect class="h" width="47" height="5.6"/><text class="t" x="1" y="4.1">plan_branch_pull_request</text><text class="x" x="46.2" y="4">[table]</text><rect class="r" x=".2" y="5.6" width="46.6" height="14.4"/><use href="#k" y="8"/><text class="n" x="3.6" y="9">plan_branch_pull_request_id</text><use href="#q" y="12.8"/><text class="n" x="3.6" y="13.8">chain_branch_id</text><use href="#q" y="17.6"/><text class="n" x="3.6" y="18.6">vcs_pull_request_id</text><path class="s" d="M0 21.9H47M18.8 21.9V27.1M37.6 21.9V27.1"/><text class="f" x="1" y="25.6">&lt; 2</text><text class="f e" x="36.8" y="25.6">0 rows</text></g>
<g id="buildresultsummary_label" transform="translate(221,626.7)"><rect class="b" width="47" height="41.5"/><rect class="h" width="47" height="5.6"/><text class="t" x="1" y="4.1">buildresultsummary_label</text><text class="x" x="46.2" y="4">[table]</text><rect class="r" x=".2" y="5.6" width="46.6" height="28.8"/><use href="#k" y="8"/><text class="n" x="3.6" y="9">id</text><use href="#q" y="12.8"/><text class="n" x="3.6" y="13.8">label_id</text><use href="#q" y="17.6"/><text class="n" x="3.6" y="18.6">buildresultsummary_id</text><use href="#q" y="22.4"/><text class="n" x="3.6" y="23.4">build_id</text><use href="#q" y="27.2"/><text class="n" x="3.6" y="28.2">project_id</text><text class="n" x="3.6" y="33">user_name</text><path class="s" d="M0 36.3H47M18.8 36.3V41.5M37.6 36.3V41.5"/><text class="f" x="1" y="40">&lt; 4</text><text class="f e" x="36.8" y="40">0 rows</text></g>
<g id="vcs_pull_request" transform="translate(156.7,605)"><rect class="b" width="46.6" height="27.1"/><rect class="h" width="46.6" height="5.6"/><text class="t" x="1" y="4.1">vcs_pull_request</text><text class="x" x="45.8" y="4">[table]</text><rect class="r" x=".2" y="5.6" width="46.2" height="14.4"/><use href="#k" y="8"/><text class="n" x="3.6" y="9">vcs_pull_request_id</text><text class="n" x="3.6" y="13.8">vcs_pull_request_key</text><text class="n" x="3.6" y="18.6">target_repository_id</text><path class="s" d="M0 21.9H46.6M18.6 21.9V27.1M37.3 21.9V27.1"/><text class="f e" x="36.5" y="25.6">0 rows</text><text class="f e" x="45.8" y="25.6">1 &gt;</text></g>
<g id="label" transform="translate(168.3,636.7)"><rect class="b" width="25" height="27.1"/><rect class="h" width="25" height="5.6"/><text class="t" x="1" y="4.1">label</text><text class="x" x="24.2" y="4">[table]</text><rect class="r" x=".2" y="5.6" width="24.6" height="14.4"/><use href="#k" y="8"/><text class="n" x="3.6" y="9">label_id</text><text class="n" x="3.6" y="13.8">name</text><text class="n" x="3.6" y="18.6">namespace</text><path class="s" d="M0 21.9H25M10 21.9V27.1M20 21.9V27.1"/><text class="f e" x="19.2" y="25.6">0 rows</text><text class="f e" x="24.2" y="25.6">1 &gt;</text></g>
<g id="artifact_subscription" transform="translate(290.7,667.7)"><rect class="b" width="39.3" height="27.1"/><rect class="h" width="39.3" height="5.6"/><text class="t" x="1" y="4.1">artifact_subscription</text><text class="x" x="38.5" y="4">[table]</text><rect class="r" x=".2" y="5.6" width="38.9" height="14.4"/><use href="#k" y="8"/><text class="n" x="3.6" y="9">artifact_subscription_id</text><use href="#q" y="12.8"/><text class="n" x="3.6" y="13.8">artifact_definition_id</text><use href="#q" y="17.6"/><text class="n" x="3.6" y="18.6">consumer_job_id</text><path class="s" d="M0 21.9H39.3M15.7 21.9V27.1M31.4 21.9V27.1"/><text class="f" x="1" y="25.6">&lt; 2</text><text class="f e" x="30.6" y="25.6">0 rows</text></g>
<g id="branch_activities" transform="translate(226.3,680.7)"><rect class="b" width="36.4" height="17.5"/><rect class="h" width="36.4" height="5.6"/><text class="t" x="1" y="4.1">branch_activities</text><text class="x" x="35.6" y="4">[table]</text><rect class="r" x=".2" y="5.6" width="36" height="4.8"/><use href="#k" y="8"/><text class="n" x="3.6" y="9">plan_id</text><path class="s" d="M0 12.3H36.4M14.6 12.3V17.5M29.1 12.3V17.5"/><text class="f" x="1" y="16">&lt; 1</text><text class="f e" x="28.3" y="16">1 rows</text></g>
<g id="build_definition" transform="translate(226.3,702.3)"><rect class="b" width="36.4" height="22.3"/><rect class="h" width="36.4" height="5.6"/><text class="t" x="1" y="4.1">build_definition</text><text class="x" x="35.6" y="4">[table]</text><rect class="r" x=".2" y="5.6" width="36" height="9.6"/><use href="#k" y="8"/><text class="n" x="3.6" y="9">build_definition_id</text><use href="#q" y="12.8"/><text class="n" x="3.6" y="13.8">build_id</text><path class="s" d="M0 17.1H36.4M14.6 17.1V22.3M29.1 17.1V22.3"/><text class="f" x="1" y="20.8">&lt; 1</text><text class="f e" x="28.3" y="20.8">7 rows</text></g>
<g id="artifact_definition" transform="translate(226.3,730)"><rect class="b" width="36.4" height="22.3"/><rect class="h" width="36.4" height="5.6"/><text class="t" x="1" y="4.1">artifact_definition</text><text class="x" x="35.6" y="4">[table]</text><rect class="r" x=".2" y="5.6" width="36" height="9.6"/><use href="#k" y="8"/><text class="n" x="3.6" y="9">artifact_definition_id</text><use href="#q" y="12.8"/><text class="n" x="3.6" y="13.8">producer_job_id</text><path class="s" d="M0 17.1H36.4M14.6 17.1V22.3M29.1 17.1V22.3"/><text class="f" x="1" y="20.8">&lt; 1</text><text class="f e" x="28.3" y="20.8">0 rows</text><text class="f e" x="35.6" y="20.8">4 &gt;</text></g>
<g id="artifact_exclusion_pattern" transform="translate(287.3,720)"><rect class="b" width="46.4" height="17.5"/><rect class="h" width="46.4" height="5.6"/><text class="t" x="1" y="4.1">artifact_exclusion_pattern</text><text class="x" x="45.6" y="4">[table]</text><rect class="r" x=".2" y="5.6" width="46" height="4.8"/><use href="#k" y="8"/><text class="n" x="3.6" y="9">artifact_definition_id</text><path class="s" d="M0 12.3H46.4M18.6 12.3V17.5M37.1 12.3V17.5"/><text class="f" x="1" y="16">&lt; 1</text><text class="f e" x="36.3" y="16">0 rows</text></g>
<g id="artifact_copy_pattern" transform="translate(290,742.3)"><rect class="b" width="40.3" height="17.5"/><rect class="h" width="40.3" height="5.6"/><text class="t" x="1" y="4.1">artifact_copy_pattern</text><text class="x" x="39.5" y="4">[table]</text><rect class="r" x=".2" y="5.6" width="39.9" height="4.8"/><use href="#k" y="8"/><text class="n" x="3.6" y="9">artifact_definition_id</text><path class="s" d="M0 12.3H40.3M16.1 12.3V17.5M32.2 12.3V17.5"/><text class="f" x="1" y="16">&lt; 1</text><text class="f e" x="31.4" y="16">0 rows</text></g>
<g id="plan_dependencies" transform="translate(225.3,756.7)"><rect class="b" width="38" height="27.1"/><rect class="h" width="38" height="5.6"/><text class="t" x="1" y="4.1">plan_dependencies</text><text class="x" x="37.2" y="4">[table]</text><rect class="r" x=".2" y="5.6" width="37.6" height="14.4"/><use href="#k" y="8"/><text class="n" x="3.6" y="9">dependency_id</text><use href="#q" y="12.8"/><text class="n" x="3.6" y="13.8">child_plan_id</text><use href="#q" y="17.6"/><text class="n" x="3.6" y="18.6">parent_plan_id</text><path class="s" d="M0 21.9H38M15.2 21.9V27.1M30.4 21.9V27.1"/><text class="f" x="1" y="25.6">&lt; 2</text><text class="f e" x="29.6" y="25.6">0 rows</text></g>
<g id="variable_definition" transform="translate(225,789)"><rect class="b" width="39" height="46.3"/><rect class="h" width="39" height="5.6"/><text class="t" x="1" y="4.1">variable_definition</text><text class="x" x="38.2" y="4">[table]</text><rect class="r" x=".2" y="5.6" width="38.6" height="33.6"/><use href="#k" y="8"/><text class="n" x="3.6" y="9">variable_definition_id</text><text class="n" x="3.6" y="13.8">variable_key</text><text class="n" x="3.6" y="18.6">variable_type</text><use href="#q" y="22.4"/><text class="n" x="3.6" y="23.4">plan_id</text><use href="#q" y="27.2"/><text class="n" x="3.6" y="28.2">project_id</text><use href="#q" y="32"/><text class="n" x="3.6" y="33">environment_id</text><use href="#q" y="36.8"/><text class="n" x="3.6" y="37.8">deployment_version_id</text><path class="s" d="M0 41.1H39M15.6 41.1V46.3M31.2 41.1V46.3"/><text class="f" x="1" y="44.8">&lt; 4</text><text class="f e" x="30.4" y="44.8">0 rows</text></g>
<g id="deployment_project_item_ba" transform="translate(285,810)"><rect class="b" width="50.3" height="22.3"/><rect class="h" width="50.3" height="5.6"/><text class="t" x="1" y="4.1">deployment_project_item_ba</text><text class="x" x="49.5" y="4">[table]</text><rect class="r" x=".2" y="5.6" width="49.9" height="9.6"/><use href="#k" y="8"/><text class="n" x="3.6" y="9">bam_artifact_item_id</text><use href="#q" y="12.8"/><text class="n" x="3.6" y="13.8">artifact_definition_id</text><path class="s" d="M0 17.1H50.3M20.1 17.1V22.3M40.2 17.1V22.3"/><text class="f" x="1" y="20.8">&lt; 2</text><text class="f e" x="39.4" y="20.8">0 rows</text></g>
<g id="chain_stage" transform="translate(103.3,751.7)"><rect class="b" width="35" height="27.1"/><rect class="h" width="35" height="5.6"/><text class="t" x="1" y="4.1">chain_stage</text><text class="x" x="34.2" y="4">[table]</text><rect class="r" x=".2" y="5.6" width="34.6" height="14.4"/><use href="#k" y="8"/><text class="n" x="3.6" y="9">stage_id</text><text class="n" x="3.6" y="13.8">marked_for_deletion</text><use href="#q" y="17.6"/><text class="n" x="3.6" y="18.6">build_id</text><path class="s" d="M0 21.9H35M14 21.9V27.1M28 21.9V27.1"/><text class="f" x="1" y="25.6">&lt; 1</text><text class="f e" x="27.2" y="25.6">0 rows</text><text class="f e" x="34.2" y="25.6">1 &gt;</text></g>
<g id="build" transform="translate(159,761.7)"><rect class="b" width="42.7" height="55.9"/><rect class="h" width="42.7" height="5.6"/><text class="t" x="1" y="4.1">build</text><text class="x" x="41.9" y="4">[table]</text><rect class="r" x=".2" y="5.6" width="42.3" height="43.2"/><use href="#k" y="8"/><text class="n" x="3.6" y="9">build_id</text><text class="n" x="3.6" y="13.8">full_key</text><text class="n" x="3.6" y="18.6">build_type</text><text class="n" x="3.6" y="23.4">marked_for_deletion</text><use href="#q" y="27.2"/><text class="n" x="3.6" y="28.2">project_id</text><use href="#q" y="32"/><text class="n" x="3.6" y="33">master_id</text><use href="#q" y="36.8"/><text class="n" x="3.6" y="37.8">notification_set</text><use href="#q" y="41.6"/><text class="n" x="3.6" y="42.6">requirement_set</text><use href="#q" y="46.4"/><text class="n" x="3.6" y="47.4">stage_id</text><path class="s" d="M0 50.7H42.7M17.1 50.7V55.9M34.2 50.7V55.9"/><text class="f" x="1" y="54.4">&lt; 5</text><text class="f e" x="33.4" y="54.4">1 rows</text><text class="f e" x="41.9" y="54.4">12 &gt;</text></g>
<g id="project" transform="translate(103.3,784)"><rect class="b" width="35" height="31.9"/><rect class="h" width="35" height="5.6"/><text class="t" x="1" y="4.1">project</text><text class="x" x="34.2" y="4">[table]</text><rect class="r" x=".2" y="5.6" width="34.6" height="19.2"/><use href="#k" y="8"/><text class="n" x="3.6" y="9">project_id</text><text class="n" x="3.6" y="13.8">project_key</text><text class="n" x="3.6" y="18.6">marked_for_deletion</text><use href="#q" y="22.4"/><text class="n" x="3.6" y="23.4">vcs_agency_resource_id</text><path class="s" d="M0 26.7H35M14 26.7V31.9M28 26.7V31.9"/><text class="f" x="1" y="30.4">&lt; 1</text><text class="f e" x="27.2" y="30.4">1 rows</text><text class="f e" x="34.2" y="30.4">4 &gt;</text></g>
<g id="vcs_agency_matrix" transform="translate(1.7,803.3)"><rect class="b" width="38.3" height="22.3"/><rect class="h" width="38.3" height="5.6"/><text class="t" x="1" y="4.1">vcs_agency_matrix</text><text class="x" x="37.5" y="4">[table]</text><rect class="r" x=".2" y="5.6" width="37.9" height="9.6"/><use href="#k" y="8"/><text class="n" x="3.6" y="9">vcs_agency_matrix_id</text><use href="#q" y="12.8"/><text class="n" x="3.6" y="13.8">vcs_location_id</text><path class="s" d="M0 17.1H38.3M15.3 17.1V22.3M30.6 17.1V22.3"/><text class="f" x="1" y="20.8">&lt; 1</text><text class="f e" x="29.8" y="20.8">0 rows</text><text class="f e" x="37.5" y="20.8">1 &gt;</text></g>
<g id="vcs_agency_resource" transform="translate(50.7,798.3)"><rect class="b" width="36" height="22.3"/><rect class="h" width="36" height="5.6"/><text class="t" x="1" y="4.1">vcs_agency_resource</text><text class="x" x="35.2" y="4">[table]</text><rect class="r" x=".2" y="5.6" width="35.6" height="9.6"/><use href="#k" y="8"/><text class="n" x="3.6" y="9">vcs_agency_resource_id</text><use href="#q" y="12.8"/><text class="n" x="3.6" y="13.8">vcs_agency_matrix_id</text><path class="s" d="M0 17.1H36M14.4 17.1V22.3M28.8 17.1V22.3"/><text class="f" x="1" y="20.8">&lt; 1</text><text class="f e" x="28" y="20.8">0 rows</text><text class="f e" x="35.2" y="20.8">3 &gt;</text></g>
<g id="notification_sets" transform="translate(103.3,850)"><rect class="b" width="34.4" height="22.3"/><rect class="h" width="34.4" height="5.6"/><text class="t" x="1" y="4.1">notification_sets</text><text class="x" x="33.6" y="4">[table]</text><rect class="r" x=".2" y="5.6" width="34" height="9.6"/><use href="#k" y="8"/><text class="n" x="3.6" y="9">notification_set_id</text><text class="n" x="3.6" y="13.8">set_type</text><path class="s" d="M0 17.1H34.4M13.8 17.1V22.3M27.5 17.1V22.3"/><text class="f e" x="26.7" y="20.8">0 rows</text><text class="f e" x="33.6" y="20.8">3 &gt;</text></g>
<g id="notifications" transform="translate(163.3,845)"><rect class="b" width="34" height="22.3"/><rect class="h" width="34" height="5.6"/><text class="t" x="1" y="4.1">notifications</text><text class="x" x="33.2" y="4">[table]</text><rect class="r" x=".2" y="5.6" width="33.6" height="9.6"/><use href="#k" y="8"/><text class="n" x="3.6" y="9">notification_rule_id</text><use href="#q" y="12.8"/><text class="n" x="3.6" y="13.8">notification_set</text><path class="s" d="M0 17.1H34M13.6 17.1V22.3M27.2 17.1V22.3"/><text class="f" x="1" y="20.8">&lt; 1</text><text class="f e" x="26.4" y="20.8">0 rows</text></g>
<g id="requirement_set" transform="translate(103.3,878.3)"><rect class="b" width="34.4" height="17.5"/><rect class="h" width="34.4" height="5.6"/><text class="t" x="1" y="4.1">requirement_set</text><text class="x" x="33.6" y="4">[table]</text><rect class="r" x=".2" y="5.6" width="34" height="4.8"/><use href="#k" y="8"/><text class="n" x="3.6" y="9">requirement_set_id</text><path class="s" d="M0 12.3H34.4M13.8 12.3V17.5M27.5 12.3V17.5"/><text class="f e" x="26.7" y="16">0 rows</text><text class="f e" x="33.6" y="16">3 &gt;</text></g>
<g id="requirement" transform="translate(163.3,873.3)"><rect class="b" width="34" height="22.3"/><rect class="h" width="34" height="5.6"/><text class="t" x="1" y="4.1">requirement</text><text class="x" x="33.2" y="4">[table]</text><rect class="r" x=".2" y="5.6" width="33.6" height="9.6"/><use href="#k" y="8"/><text class="n" x="3.6" y="9">requirement_id</text><use href="#q" y="12.8"/><text class="n" x="3.6" y="13.8">requirement_set</text><path class="s" d="M0 17.1H34M13.6 17.1V22.3M27.2 17.1V22.3"/><text class="f" x="1" y="20.8">&lt; 1</text><text class="f e" x="26.4" y="20.8">0 rows</text></g>
<g id="deployment_project_item" transform="translate(156.7,903.3)"><rect class="b" width="47.3" height="22.3"/><rect class="h" width="47.3" height="5.6"/><text class="t" x="1" y="4.1">deployment_project_item</text><text class="x" x="46.5" y="4">[table]</text><rect class="r" x=".2" y="5.6" width="46.9" height="9.6"/><use href="#k" y="8"/><text class="n" x="3.6" y="9">deployment_project_item_id</text><use href="#q" y="12.8"/><text class="n" x="3.6" y="13.8">deployment_project_id</text><path class="s" d="M0 17.1H47.3M18.9 17.1V22.3M37.8 17.1V22.3"/><text class="f" x="1" y="20.8">&lt; 1</text><text class="f e" x="37" y="20.8">0 rows</text><text class="f e" x="46.5" y="20.8">1 &gt;</text></g>
<g id="deployment_environment" transform="translate(156.7,936)"><rect class="b" width="47.3" height="36.7"/><rect class="h" width="47.3" height="5.6"/><text class="t" x="1" y="4.1">deployment_environment</text><text class="x" x="46.5" y="4">[table]</text><rect class="r" x=".2" y="5.6" width="46.9" height="24"/><use href="#k" y="8"/><text class="n" x="3.6" y="9">environment_id</text><use href="#q" y="12.8"/><text class="n" x="3.6" y="13.8">package_definition_id</text><use href="#q" y="17.6"/><text class="n" x="3.6" y="18.6">requirement_set</text><use href="#q" y="22.4"/><text class="n" x="3.6" y="23.4">notification_set</text><text class="n" x="3.6" y="28.2">release_approval_prc</text><path class="s" d="M0 31.5H47.3M18.9 31.5V36.7M37.8 31.5V36.7"/><text class="f" x="1" y="35.2">&lt; 3</text><text class="f e" x="37" y="35.2">0 rows</text><text class="f e" x="46.5" y="35.2">4 &gt;</text></g>
<g id="deployment_project" transform="translate(101,966.7)"><rect class="b" width="39.7" height="31.9"/><rect class="h" width="39.7" height="5.6"/><text class="t" x="1" y="4.1">deployment_project</text><text class="x" x="38.9" y="4">[table]</text><rect class="r" x=".2" y="5.6" width="39.3" height="19.2"/><use href="#k" y="8"/><text class="n" x="3.6" y="9">deployment_project_id</text><text class="n" x="3.6" y="13.8">name</text><text class="n" x="3.6" y="18.6">plan_key</text><use href="#q" y="22.4"/><text class="n" x="3.6" y="23.4">vcs_agency_resource_id</text><path class="s" d="M0 26.7H39.7M15.9 26.7V31.9M31.8 26.7V31.9"/><text class="f" x="1" y="30.4">&lt; 1</text><text class="f e" x="31" y="30.4">0 rows</text><text class="f e" x="38.9" y="30.4">5 &gt;</text></g>
<g id="deployment_version_naming" transform="translate(155,987.7)"><rect class="b" width="50.7" height="22.3"/><rect class="h" width="50.7" height="5.6"/><text class="t" x="1" y="4.1">deployment_version_naming</text><text class="x" x="49.9" y="4">[table]</text><rect class="r" x=".2" y="5.6" width="50.3" height="9.6"/><use href="#k" y="8"/><text class="n" x="3.6" y="9">version_naming_scheme_id</text><use href="#q" y="12.8"/><text class="n" x="3.6" y="13.8">deployment_project_id</text><path class="s" d="M0 17.1H50.7M20.3 17.1V22.3M40.6 17.1V22.3"/><text class="f" x="1" y="20.8">&lt; 1</text><text class="f e" x="39.8" y="20.8">0 rows</text><text class="f e" x="49.9" y="20.8">1 &gt;</text></g>
<g id="vcs_location" transform="translate(163.3,1053.3)"><rect class="b" width="35" height="31.9"/><rect class="h" width="35" height="5.6"/><text class="t" x="1" y="4.1">vcs_location</text><text class="x" x="34.2" y="4">[table]</text><rect class="r" x=".2" y="5.6" width="34.6" height="19.2"/><use href="#k" y="8"/><text class="n" x="3.6" y="9">vcs_location_id</text><text class="n" x="3.6" y="13.8">is_global</text><use href="#q" y="17.6"/><text class="n" x="3.6" y="18.6">plan_id</text><use href="#q" y="22.4"/><text class="n" x="3.6" y="23.4">parent_id</text><path class="s" d="M0 26.7H35M14 26.7V31.9M28 26.7V31.9"/><text class="f" x="1" y="30.4">&lt; 2</text><text class="f e" x="27.2" y="30.4">0 rows</text><text class="f e" x="34.2" y="30.4">12 &gt;</text></g>
<g id="vcs_branch" transform="translate(224.3,840.7)"><rect class="b" width="40" height="22.3"/><rect class="h" width="40" height="5.6"/><text class="t" x="1" y="4.1">vcs_branch</text><text class="x" x="39.2" y="4">[table]</text><rect class="r" x=".2" y="5.6" width="39.6" height="9.6"/><use href="#k" y="8"/><text class="n" x="3.6" y="9">vcs_branch_id</text><use href="#q" y="12.8"/><text class="n" x="3.6" y="13.8">chain_id</text><path class="s" d="M0 17.1H40M16 17.1V22.3M32 17.1V22.3"/><text class="f" x="1" y="20.8">&lt; 1</text><text class="f e" x="31.2" y="20.8">0 rows</text></g>
<g id="test_class" transform="translate(230,874)"><rect class="b" width="29.3" height="27.1"/><rect class="h" width="29.3" height="5.6"/><text class="t" x="1" y="4.1">test_class</text><text class="x" x="28.5" y="4">[table]</text><rect class="r" x=".2" y="5.6" width="28.9" height="14.4"/><use href="#k" y="8"/><text class="n" x="3.6" y="9">test_class_id</text><use href="#q" y="12.8"/><text class="n" x="3.6" y="13.8">plan_id</text><text class="n" x="3.6" y="18.6">chain_job_id</text><path class="s" d="M0 21.9H29.3M11.7 21.9V27.1M23.4 21.9V27.1"/><text class="f" x="1" y="25.6">&lt; 1</text><text class="f e" x="22.6" y="25.6">0 rows</text><text class="f e" x="28.5" y="25.6">2 &gt;</text></g>
<g id="test_case" transform="translate(290.7,869.3)"><rect class="b" width="39.6" height="27.1"/><rect class="h" width="39.6" height="5.6"/><text class="t" x="1" y="4.1">test_case</text><text class="x" x="38.8" y="4">[table]</text><rect class="r" x=".2" y="5.6" width="39.2" height="14.4"/><use href="#k" y="8"/><text class="n" x="3.6" y="9">test_case_id</text><use href="#q" y="12.8"/><text class="n" x="3.6" y="13.8">test_class_id</text><text class="n" x="3.6" y="18.6">quarantining_user</text><path class="s" d="M0 21.9H39.6M15.8 21.9V27.1M31.7 21.9V27.1"/><text class="f" x="1" y="25.6">&lt; 1</text><text class="f e" x="30.9" y="25.6">0 rows</text><text class="f e" x="38.8" y="25.6">1 &gt;</text></g>
<g id="test_class_result" transform="translate(291,901)"><rect class="b" width="39" height="27.1"/><rect class="h" width="39" height="5.6"/><text class="t" x="1" y="4.1">test_class_result</text><text class="x" x="38.2" y="4">[table]</text><rect class="r" x=".2" y="5.6" width="38.6" height="14.4"/><use href="#k" y="8"/><text class="n" x="3.6" y="9">test_class_result_id</text><use href="#q" y="12.8"/><text class="n" x="3.6" y="13.8">buildresultsummary_id</text><use href="#q" y="17.6"/><text class="n" x="3.6" y="18.6">test_class_id</text><path class="s" d="M0 21.9H39M15.6 21.9V27.1M31.2 21.9V27.1"/><text class="f" x="1" y="25.6">&lt; 2</text><text class="f e" x="30.4" y="25.6">0 rows</text><text class="f e" x="38.2" y="25.6">1 &gt;</text></g>
<g id="test_case_result" transform="translate(359.3,868.3)"><rect class="b" width="33.7" height="36.7"/><rect class="h" width="33.7" height="5.6"/><text class="t" x="1" y="4.1">test_case_result</text><text class="x" x="32.9" y="4">[table]</text><rect class="r" x=".2" y="5.6" width="33.3" height="24"/><use href="#k" y="8"/><text class="n" x="3.6" y="9">test_case_result_id</text><text class="n" x="3.6" y="13.8">delta_state</text><text class="n" x="3.6" y="18.6">test_state</text><use href="#q" y="22.4"/><text class="n" x="3.6" y="23.4">test_case_id</text><use href="#q" y="27.2"/><text class="n" x="3.6" y="28.2">test_class_result_id</text><path class="s" d="M0 31.5H33.7M13.5 31.5V36.7M27 31.5V36.7"/><text class="f" x="1" y="35.2">&lt; 2</text><text class="f e" x="26.2" y="35.2">0 rows</text><text class="f e" x="32.9" y="35.2">1 &gt;</text></g>
<g id="test_error" transform="translate(430.3,863.3)"><rect class="b" width="25" height="22.3"/><rect class="h" width="25" height="5.6"/><text class="t" x="1" y="4.1">test_error</text><text class="x" x="24.2" y="4">[table]</text><rect class="r" x=".2" y="5.6" width="24.6" height="9.6"/><use href="#k" y="8"/><text class="n" x="3.6" y="9">error_id</text><use href="#q" y="12.8"/><text class="n" x="3.6" y="13.8">result_id</text><path class="s" d="M0 17.1H25M10 17.1V22.3M20 17.1V22.3"/><text class="f" x="1" y="20.8">&lt; 1</text><text class="f e" x="19.2" y="20.8">0 rows</text></g>
<g id="deployment_env_config" transform="translate(222.7,906)"><rect class="b" width="43.3" height="17.5"/><rect class="h" width="43.3" height="5.6"/><text class="t" x="1" y="4.1">deployment_env_config</text><text class="x" x="42.5" y="4">[table]</text><rect class="r" x=".2" y="5.6" width="42.9" height="4.8"/><use href="#k" y="8"/><text class="n" x="3.6" y="9">environment_id</text><path class="s" d="M0 12.3H43.3M17.3 12.3V17.5M34.6 12.3V17.5"/><text class="f" x="1" y="16">&lt; 1</text><text class="f e" x="33.8" y="16">0 rows</text></g>
<g id="plan_vcs_location" transform="translate(226.7,928.3)"><rect class="b" width="35.6" height="27.1"/><rect class="h" width="35.6" height="5.6"/><text class="t" x="1" y="4.1">plan_vcs_location</text><text class="x" x="34.8" y="4">[table]</text><rect class="r" x=".2" y="5.6" width="35.2" height="14.4"/><use href="#k" y="8"/><text class="n" x="3.6" y="9">plan_vcs_location_id</text><use href="#q" y="12.8"/><text class="n" x="3.6" y="13.8">plan_id</text><use href="#q" y="17.6"/><text class="n" x="3.6" y="18.6">vcs_location_id</text><path class="s" d="M0 21.9H35.6M14.2 21.9V27.1M28.5 21.9V27.1"/><text class="f" x="1" y="25.6">&lt; 2</text><text class="f e" x="27.7" y="25.6">0 rows</text></g>
<g id="srv_permission_project" transform="translate(222.7,960)"><rect class="b" width="43" height="27.1"/><rect class="h" width="43" height="5.6"/><text class="t" x="1" y="4.1">srv_permission_project</text><text class="x" x="42.2" y="4">[table]</text><rect class="r" x=".2" y="5.6" width="42.6" height="14.4"/><use href="#k" y="8"/><text class="n" x="3.6" y="9">permission_id</text><use href="#q" y="12.8"/><text class="n" x="3.6" y="13.8">project_id</text><use href="#q" y="17.6"/><text class="n" x="3.6" y="18.6">repository_id</text><path class="s" d="M0 21.9H43M17.2 21.9V27.1M34.4 21.9V27.1"/><text class="f" x="1" y="25.6">&lt; 2</text><text class="f e" x="33.6" y="25.6">0 rows</text></g>
<g id="variable_naming_context" transform="translate(220.7,988.3)"><rect class="b" width="47" height="22.3"/><rect class="h" width="47" height="5.6"/><text class="t" x="1" y="4.1">variable_naming_context</text><text class="x" x="46.2" y="4">[table]</text><rect class="r" x=".2" y="5.6" width="46.6" height="9.6"/><use href="#k" y="8"/><text class="n" x="3.6" y="9">version_naming_scheme_id</text><text class="n" x="3.6" y="13.8">variable_name</text><path class="s" d="M0 17.1H47M18.8 17.1V22.3M37.6 17.1V22.3"/><text class="f" x="1" y="20.8">&lt; 1</text><text class="f e" x="36.8" y="20.8">0 rows</text></g>
<g id="deployment_env_vcs_location" transform="translate(218.3,1012.3)"><rect class="b" width="52" height="27.1"/><rect class="h" width="52" height="5.6"/><text class="t" x="1" y="4.1">deployment_env_vcs_location</text><text class="x" x="51.2" y="4">[table]</text><rect class="r" x=".2" y="5.6" width="51.6" height="14.4"/><use href="#k" y="8"/><text class="n" x="3.6" y="9">env_vcs_location_id</text><use href="#q" y="12.8"/><text class="n" x="3.6" y="13.8">environment_id</text><use href="#q" y="17.6"/><text class="n" x="3.6" y="18.6">vcs_location_id</text><path class="s" d="M0 21.9H52M20.8 21.9V27.1M41.6 21.9V27.1"/><text class="f" x="1" y="25.6">&lt; 2</text><text class="f e" x="40.8" y="25.6">0 rows</text></g>
<g id="srv_permission_repository" transform="translate(220,1044.3)"><rect class="b" width="47.3" height="27.1"/><rect class="h" width="47.3" height="5.6"/><text class="t" x="1" y="4.1">srv_permission_repository</text><text class="x" x="46.5" y="4">[table]</text><rect class="r" x=".2" y="5.6" width="46.9" height="14.4"/><use href="#k" y="8"/><text class="n" x="3.6" y="9">permission_id</text><use href="#q" y="12.8"/><text class="n" x="3.6" y="13.8">repository_id</text><use href="#q" y="17.6"/><text class="n" x="3.6" y="18.6">target_repository_id</text><path class="s" d="M0 21.9H47.3M18.9 21.9V27.1M37.8 21.9V27.1"/><text class="f" x="1" y="25.6">&lt; 1</text><text class="f e" x="37" y="25.6">0 rows</text></g>
<g id="vcs_flag" transform="translate(231.7,1072.3)"><rect class="b" width="26" height="22.3"/><rect class="h" width="26" height="5.6"/><text class="t" x="1" y="4.1">vcs_flag</text><text class="x" x="25.2" y="4">[table]</text><rect class="r" x=".2" y="5.6" width="25.6" height="9.6"/><use href="#k" y="8"/><text class="n" x="3.6" y="9">vcs_flag_id</text><use href="#q" y="12.8"/><text class="n" x="3.6" y="13.8">vcs_location_id</text><path class="s" d="M0 17.1H26M10.4 17.1V22.3M20.8 17.1V22.3"/><text class="f" x="1" y="20.8">&lt; 1</text><text class="f e" x="20" y="20.8">0 rows</text></g>
<g id="srv_permission_deployment_proj" transform="translate(216.7,1099.3)"><rect class="b" width="55.3" height="27.1"/><rect class="h" width="55.3" height="5.6"/><text class="t" x="1" y="4.1">srv_permission_deployment_proj</text><text class="x" x="54.5" y="4">[table]</text><rect class="r" x=".2" y="5.6" width="54.9" height="14.4"/><use href="#k" y="8"/><text class="n" x="3.6" y="9">permission_id</text><use href="#q" y="12.8"/><text class="n" x="3.6" y="13.8">deployment_project_id</text><use href="#q" y="17.6"/><text class="n" x="3.6" y="18.6">repository_id</text><path class="s" d="M0 21.9H55.3M22.1 21.9V27.1M44.2 21.9V27.1"/><text class="f" x="1" y="25.6">&lt; 2</text><text class="f e" x="43.4" y="25.6">0 rows</text></g>
<g id="deployment_result" transform="translate(220.7,1128.3)"><rect class="b" width="48" height="51.1"/><rect class="h" width="48" height="5.6"/><text class="t" x="1" y="4.1">deployment_result</text><text class="x" x="47.2" y="4">[table]</text><rect class="r" x=".2" y="5.6" width="47.6" height="38.4"/><use href="#k" y="8"/><text class="n" x="3.6" y="9">deployment_result_id</text><use href="#q" y="12.8"/><text class="n" x="3.6" y="13.8">version_id</text><use href="#q" y="17.6"/><text class="n" x="3.6" y="18.6">environment_id</text><text class="n" x="3.6" y="23.4">deployment_state</text><text class="n" x="3.6" y="28.2">life_cycle_state</text><text class="n" x="3.6" y="33">trigger_reason</text><text class="n" x="3.6" y="37.8">agent_id</text><use href="#q" y="41.6"/><text class="n" x="3.6" y="42.6">variable_context_baseline_id</text><path class="s" d="M0 45.9H48M19.2 45.9V51.1M38.4 45.9V51.1"/><text class="f" x="1" y="49.6">&lt; 3</text><text class="f e" x="37.6" y="49.6">0 rows</text><text class="f e" x="47.2" y="49.6">1 &gt;</text></g>
<g id="deployment_result_customdata" transform="translate(283.3,1127.7)"><rect class="b" width="54" height="22.3"/><rect class="h" width="54" height="5.6"/><text class="t" x="1" y="4.1">deployment_result_customdata</text><text class="x" x="53.2" y="4">[table]</text><rect class="r" x=".2" y="5.6" width="53.6" height="9.6"/><use href="#k" y="8"/><text class="n" x="3.6" y="9">deployment_result_id</text><use href="#k" y="12.8"/><text class="n" x="3.6" y="13.8">custom_info_key</text><path class="s" d="M0 17.1H54M21.6 17.1V22.3M43.2 17.1V22.3"/><text class="f" x="1" y="20.8">&lt; 1</text><text class="f e" x="42.4" y="20.8">0 rows</text></g>
<g id="deployment_version_changeset" transform="translate(217.3,1184)"><rect class="b" width="54.4" height="27.1"/><rect class="h" width="54.4" height="5.6"/><text class="t" x="1" y="4.1">deployment_version_changeset</text><text class="x" x="53.6" y="4">[table]</text><rect class="r" x=".2" y="5.6" width="54" height="14.4"/><use href="#k" y="8"/><text class="n" x="3.6" y="9">dep_version_changeset_id</text><use href="#q" y="12.8"/><text class="n" x="3.6" y="13.8">deployment_version_id</text><use href="#q" y="17.6"/><text class="n" x="3.6" y="18.6">vcs_location_id</text><path class="s" d="M0 21.9H54.4M21.8 21.9V27.1M43.5 21.9V27.1"/><text class="f" x="1" y="25.6">&lt; 2</text><text class="f e" x="42.7" y="25.6">0 rows</text><text class="f e" x="53.6" y="25.6">1 &gt;</text></g>
<g id="deployment_version_status" transform="translate(220,1216.7)"><rect class="b" width="49.3" height="31.9"/><rect class="h" width="49.3" height="5.6"/><text class="t" x="1" y="4.1">deployment_version_status</text><text class="x" x="48.5" y="4">[table]</text><rect class="r" x=".2" y="5.6" width="48.9" height="19.2"/><use href="#k" y="8"/><text class="n" x="3.6" y="9">deployment_version_status_id</text><text class="n" x="3.6" y="13.8">version_state</text><text class="n" x="3.6" y="18.6">user_name</text><use href="#q" y="22.4"/><text class="n" x="3.6" y="23.4">deployment_version_id</text><path class="s" d="M0 26.7H49.3M19.7 26.7V31.9M39.4 26.7V31.9"/><text class="f" x="1" y="30.4">&lt; 1</text><text class="f e" x="38.6" y="30.4">0 rows</text></g>
<g id="deployment_version_commit" transform="translate(284.3,1227.7)"><rect class="b" width="51.7" height="31.9"/><rect class="h" width="51.7" height="5.6"/><text class="t" x="1" y="4.1">deployment_version_commit</text><text class="x" x="50.9" y="4">[table]</text><rect class="r" x=".2" y="5.6" width="51.3" height="19.2"/><use href="#k" y="8"/><text class="n" x="3.6" y="9">deployment_version_commit_id</text><use href="#q" y="12.8"/><text class="n" x="3.6" y="13.8">dep_version_changeset_id</text><use href="#q" y="17.6"/><text class="n" x="3.6" y="18.6">author_id</text><text class="n" x="3.6" y="23.4">commit_revision</text><path class="s" d="M0 26.7H51.7M20.7 26.7V31.9M41.4 26.7V31.9"/><text class="f" x="1" y="30.4">&lt; 2</text><text class="f e" x="40.6" y="30.4">0 rows</text></g>
<g id="dep_version_planresultkeys" transform="translate(220,1254)"><rect class="b" width="49.3" height="31.9"/><rect class="h" width="49.3" height="5.6"/><text class="t" x="1" y="4.1">dep_version_planresultkeys</text><text class="x" x="48.5" y="4">[table]</text><rect class="r" x=".2" y="5.6" width="48.9" height="19.2"/><use href="#k" y="8"/><text class="n" x="3.6" y="9">dep_version_planresultkeys_id</text><use href="#q" y="12.8"/><text class="n" x="3.6" y="13.8">deployment_version_id</text><text class="n" x="3.6" y="18.6">plan_key</text><text class="n" x="3.6" y="23.4">build_number</text><path class="s" d="M0 26.7H49.3M19.7 26.7V31.9M39.4 26.7V31.9"/><text class="f" x="1" y="30.4">&lt; 1</text><text class="f e" x="38.6" y="30.4">0 rows</text></g>
<g id="deployment_version_jira_issue" transform="translate(218.3,1286)"><rect class="b" width="52" height="27.1"/><rect class="h" width="52" height="5.6"/><text class="t" x="1" y="4.1">deployment_version_jira_issue</text><text class="x" x="51.2" y="4">[table]</text><rect class="r" x=".2" y="5.6" width="51.6" height="14.4"/><use href="#k" y="8"/><text class="n" x="3.6" y="9">dep_ver_jira_issue_id</text><use href="#q" y="12.8"/><text class="n" x="3.6" y="13.8">deployment_version_id</text><text class="n" x="3.6" y="18.6">jira_issue_key</text><path class="s" d="M0 21.9H52M20.8 21.9V27.1M41.6 21.9V27.1"/><text class="f" x="1" y="25.6">&lt; 1</text><text class="f e" x="40.8" y="25.6">0 rows</text></g>
<g id="branch_commit_info" transform="translate(286.7,1311)"><rect class="b" width="47.6" height="31.9"/><rect class="h" width="47.6" height="5.6"/><text class="t" x="1" y="4.1">branch_commit_info</text><text class="x" x="46.8" y="4">[table]</text><rect class="r" x=".2" y="5.6" width="47.2" height="19.2"/><use href="#k" y="8"/><text class="n" x="3.6" y="9">branch_commit_info_id</text><use href="#q" y="12.8"/><text class="n" x="3.6" y="13.8">branch_id</text><use href="#q" y="17.6"/><text class="n" x="3.6" y="18.6">creating_author_id</text><use href="#q" y="22.4"/><text class="n" x="3.6" y="23.4">latest_commit_author_id</text><path class="s" d="M0 26.7H47.6M19 26.7V31.9M38.1 26.7V31.9"/><text class="f" x="1" y="30.4">&lt; 2</text><text class="f e" x="37.3" y="30.4">0 rows</text></g>
<g id="author" transform="translate(229,1325)"><rect class="b" width="31" height="27.1"/><rect class="h" width="31" height="5.6"/><text class="t" x="1" y="4.1">author</text><text class="x" x="30.2" y="4">[table]</text><rect class="r" x=".2" y="5.6" width="30.6" height="14.4"/><use href="#k" y="8"/><text class="n" x="3.6" y="9">author_id</text><text class="n" x="3.6" y="13.8">linked_user_name</text><text class="n" x="3.6" y="18.6">author_email</text><path class="s" d="M0 21.9H31M12.4 21.9V27.1M24.8 21.9V27.1"/><text class="f e" x="24" y="25.6">0 rows</text><text class="f e" x="30.2" y="25.6">4 &gt;</text></g>
<g id="user_commit" transform="translate(290,1350.7)"><rect class="b" width="40.7" height="31.9"/><rect class="h" width="40.7" height="5.6"/><text class="t" x="1" y="4.1">user_commit</text><text class="x" x="39.9" y="4">[table]</text><rect class="r" x=".2" y="5.6" width="40.3" height="19.2"/><use href="#k" y="8"/><text class="n" x="3.6" y="9">commit_id</text><use href="#q" y="12.8"/><text class="n" x="3.6" y="13.8">repository_changeset_id</text><use href="#q" y="17.6"/><text class="n" x="3.6" y="18.6">author_id</text><text class="n" x="3.6" y="23.4">commit_revision</text><path class="s" d="M0 26.7H40.7M16.3 26.7V31.9M32.6 26.7V31.9"/><text class="f" x="1" y="30.4">&lt; 2</text><text class="f e" x="31.8" y="30.4">0 rows</text><text class="f e" x="39.9" y="30.4">1 &gt;</text></g>
<g id="commit_files" transform="translate(358,1350.7)"><rect class="b" width="35.3" height="17.5"/><rect class="h" width="35.3" height="5.6"/><text class="t" x="1" y="4.1">commit_files</text><text class="x" x="34.5" y="4">[table]</text><rect class="r" x=".2" y="5.6" width="34.9" height="4.8"/><use href="#k" y="8"/><text class="n" x="3.6" y="9">commit_id</text><path class="s" d="M0 12.3H35.3M14.1 12.3V17.5M28.2 12.3V17.5"/><text class="f" x="1" y="16">&lt; 1</text><text class="f e" x="27.4" y="16">0 rows</text></g>
<g id="repository_changeset" transform="translate(224,1357.3)"><rect class="b" width="40.7" height="31.9"/><rect class="h" width="40.7" height="5.6"/><text class="t" x="1" y="4.1">repository_changeset</text><text class="x" x="39.9" y="4">[table]</text><rect class="r" x=".2" y="5.6" width="40.3" height="19.2"/><use href="#k" y="8"/><text class="n" x="3.6" y="9">repository_changeset_id</text><use href="#q" y="12.8"/><text class="n" x="3.6" y="13.8">buildresultsummary_id</text><use href="#q" y="17.6"/><text class="n" x="3.6" y="18.6">vcs_location_id</text><text class="n" x="3.6" y="23.4">changeset_id</text><path class="s" d="M0 26.7H40.7M16.3 26.7V31.9M32.6 26.7V31.9"/><text class="f" x="1" y="30.4">&lt; 2</text><text class="f e" x="31.8" y="30.4">0 rows</text><text class="f e" x="39.9" y="30.4">2 &gt;</text></g>
<g id="ao_dc9d5d_workspace" transform="translate(355.3,1373.3)"><rect class="b" width="41.4" height="17.5"/><rect class="h" width="41.4" height="5.6"/><text class="t" x="1" y="4.1">ao_dc9d5d_workspace</text><text class="x" x="40.6" y="4">[table]</text><rect class="r" x=".2" y="5.6" width="41" height="4.8"/><use href="#k" y="8"/><text class="n" x="3.6" y="9">id</text><path class="s" d="M0 12.3H41.4M16.6 12.3V17.5M33.1 12.3V17.5"/><text class="f e" x="32.3" y="16">0 rows</text><text class="f e" x="40.6" y="16">2 &gt;</text></g>
<g id="ao_dc9d5d_workspace_config" transform="translate(416.7,1354.3)"><rect class="b" width="52.6" height="22.3"/><rect class="h" width="52.6" height="5.6"/><text class="t" x="1" y="4.1">ao_dc9d5d_workspace_config</text><text class="x" x="51.8" y="4">[table]</text><rect class="r" x=".2" y="5.6" width="52.2" height="9.6"/><use href="#k" y="8"/><text class="n" x="3.6" y="9">id</text><use href="#q" y="12.8"/><text class="n" x="3.6" y="13.8">workspace_id</text><path class="s" d="M0 17.1H52.6M21 17.1V22.3M42.1 17.1V22.3"/><text class="f" x="1" y="20.8">&lt; 1</text><text class="f e" x="41.3" y="20.8">0 rows</text></g>
<g id="ao_dc9d5d_workspace_entity" transform="translate(416.7,1381.7)"><rect class="b" width="52.6" height="22.3"/><rect class="h" width="52.6" height="5.6"/><text class="t" x="1" y="4.1">ao_dc9d5d_workspace_entity</text><text class="x" x="51.8" y="4">[table]</text><rect class="r" x=".2" y="5.6" width="52.2" height="9.6"/><use href="#k" y="8"/><text class="n" x="3.6" y="9">id</text><use href="#q" y="12.8"/><text class="n" x="3.6" y="13.8">workspace_id</text><path class="s" d="M0 17.1H52.6M21 17.1V22.3M42.1 17.1V22.3"/><text class="f" x="1" y="20.8">&lt; 1</text><text class="f e" x="41.3" y="20.8">0 rows</text></g>
<g id="relevant_changesets" transform="translate(290,1407.3)"><rect class="b" width="41" height="22.3"/><rect class="h" width="41" height="5.6"/><text class="t" x="1" y="4.1">relevant_changesets</text><text class="x" x="40.2" y="4">[table]</text><rect class="r" x=".2" y="5.6" width="40.6" height="9.6"/><use href="#k" y="8"/><text class="n" x="3.6" y="9">buildresultsummary_id</text><use href="#k" y="12.8"/><text class="n" x="3.6" y="13.8">repository_changeset_id</text><path class="s" d="M0 17.1H41M16.4 17.1V22.3M32.8 17.1V22.3"/><text class="f" x="1" y="20.8">&lt; 2</text><text class="f e" x="32" y="20.8">0 rows</text></g>
<g id="deployment_version_item" transform="translate(220.7,1400)"><rect class="b" width="47.6" height="22.3"/><rect class="h" width="47.6" height="5.6"/><text class="t" x="1" y="4.1">deployment_version_item</text><text class="x" x="46.8" y="4">[table]</text><rect class="r" x=".2" y="5.6" width="47.2" height="9.6"/><use href="#k" y="8"/><text class="n" x="3.6" y="9">deployment_version_item_id</text><use href="#q" y="12.8"/><text class="n" x="3.6" y="13.8">deployment_version_id</text><path class="s" d="M0 17.1H47.6M19 17.1V22.3M38.1 17.1V22.3"/><text class="f" x="1" y="20.8">&lt; 1</text><text class="f e" x="37.3" y="20.8">0 rows</text><text class="f e" x="46.8" y="20.8">1 &gt;</text></g>
<g id="buildresult_warning_summary" transform="translate(218.3,1427.7)"><rect class="b" width="52.4" height="27.1"/><rect class="h" width="52.4" height="5.6"/><text class="t" x="1" y="4.1">buildresult_warning_summary</text><text class="x" x="51.6" y="4">[table]</text><rect class="r" x=".2" y="5.6" width="52" height="14.4"/><use href="#k" y="8"/><text class="n" x="3.6" y="9">build_warning_id</text><use href="#q" y="12.8"/><text class="n" x="3.6" y="13.8">repository_id</text><use href="#q" y="17.6"/><text class="n" x="3.6" y="18.6">buildresultsummary_id</text><path class="s" d="M0 21.9H52.4M21 21.9V27.1M41.9 21.9V27.1"/><text class="f" x="1" y="25.6">&lt; 2</text><text class="f e" x="41.1" y="25.6">0 rows</text></g>
<g id="buildresultsummary_customdata" transform="translate(216.7,1459.3)"><rect class="b" width="55.6" height="22.3"/><rect class="h" width="55.6" height="5.6"/><text class="t" x="1" y="4.1">buildresultsummary_customdata</text><text class="x" x="54.8" y="4">[table]</text><rect class="r" x=".2" y="5.6" width="55.2" height="9.6"/><use href="#k" y="8"/><text class="n" x="3.6" y="9">buildresultsummary_id</text><use href="#k" y="12.8"/><text class="n" x="3.6" y="13.8">custom_info_key</text><path class="s" d="M0 17.1H55.6M22.2 17.1V22.3M44.5 17.1V22.3"/><text class="f" x="1" y="20.8">&lt; 1</text><text class="f e" x="43.7" y="20.8">1255 rows</text></g>
<g id="variable_context" transform="translate(225,1486)"><rect class="b" width="39" height="27.1"/><rect class="h" width="39" height="5.6"/><text class="t" x="1" y="4.1">variable_context</text><text class="x" x="38.2" y="4">[table]</text><rect class="r" x=".2" y="5.6" width="38.6" height="14.4"/><use href="#k" y="8"/><text class="n" x="3.6" y="9">variable_context_id</text><text class="n" x="3.6" y="13.8">variable_type</text><use href="#q" y="17.6"/><text class="n" x="3.6" y="18.6">buildresultsummary_id</text><path class="s" d="M0 21.9H39M15.6 21.9V27.1M31.2 21.9V27.1"/><text class="f" x="1" y="25.6">&lt; 1</text><text class="f e" x="30.4" y="25.6">0 rows</text></g>
<g id="variable_substitution" transform="translate(224.3,1517.7)"><rect class="b" width="40.4" height="27.1"/><rect class="h" width="40.4" height="5.6"/><text class="t" x="1" y="4.1">variable_substitution</text><text class="x" x="39.6" y="4">[table]</text><rect class="r" x=".2" y="5.6" width="40" height="14.4"/><use href="#k" y="8"/><text class="n" x="3.6" y="9">variable_substitution_id</text><text class="n" x="3.6" y="13.8">variable_type</text><use href="#q" y="17.6"/><text class="n" x="3.6" y="18.6">buildresultsummary_id</text><path class="s" d="M0 21.9H40.4M16.2 21.9V27.1M32.3 21.9V27.1"/><text class="f" x="1" y="25.6">&lt; 1</text><text class="f e" x="31.5" y="25.6">0 rows</text></g>
<g id="brs_linkedjiraissues" transform="translate(225,1550.7)"><rect class="b" width="39" height="27.1"/><rect class="h" width="39" height="5.6"/><text class="t" x="1" y="4.1">brs_linkedjiraissues</text><text class="x" x="38.2" y="4">[table]</text><rect class="r" x=".2" y="5.6" width="38.6" height="14.4"/><use href="#k" y="8"/><text class="n" x="3.6" y="9">linkedjiraissue_id</text><use href="#q" y="12.8"/><text class="n" x="3.6" y="13.8">buildresultsummary_id</text><text class="n" x="3.6" y="18.6">jira_issue_key</text><path class="s" d="M0 21.9H39M15.6 21.9V27.1M31.2 21.9V27.1"/><text class="f" x="1" y="25.6">&lt; 1</text><text class="f e" x="30.4" y="25.6">0 rows</text></g>
<g id="brs_artifact_link" transform="translate(225,1589.3)"><rect class="b" width="39" height="31.9"/><rect class="h" width="39" height="5.6"/><text class="t" x="1" y="4.1">brs_artifact_link</text><text class="x" x="38.2" y="4">[table]</text><rect class="r" x=".2" y="5.6" width="38.6" height="19.2"/><use href="#k" y="8"/><text class="n" x="3.6" y="9">artifact_link_id</text><use href="#q" y="12.8"/><text class="n" x="3.6" y="13.8">buildresultsummary_id</text><use href="#q" y="17.6"/><text class="n" x="3.6" y="18.6">producerresult_id</text><use href="#q" y="22.4"/><text class="n" x="3.6" y="23.4">artifact_id</text><path class="s" d="M0 26.7H39M15.6 26.7V31.9M31.2 26.7V31.9"/><text class="f" x="1" y="30.4">&lt; 2</text><text class="f e" x="30.4" y="30.4">0 rows</text><text class="f e" x="38.2" y="30.4">1 &gt;</text></g>
<g id="brs_consumed_subscription" transform="translate(285.7,1515)"><rect class="b" width="49" height="27.1"/><rect class="h" width="49" height="5.6"/><text class="t" x="1" y="4.1">brs_consumed_subscription</text><text class="x" x="48.2" y="4">[table]</text><rect class="r" x=".2" y="5.6" width="48.6" height="14.4"/><use href="#k" y="8"/><text class="n" x="3.6" y="9">consumed_subscription_id</text><use href="#q" y="12.8"/><text class="n" x="3.6" y="13.8">consumer_resultsummary_id</text><use href="#q" y="17.6"/><text class="n" x="3.6" y="18.6">artifact_link_id</text><path class="s" d="M0 21.9H49M19.6 21.9V27.1M39.2 21.9V27.1"/><text class="f" x="1" y="25.6">&lt; 2</text><text class="f e" x="38.4" y="25.6">0 rows</text></g>
<g id="deployment_version_item_ba" transform="translate(285,1589.3)"><rect class="b" width="51" height="22.3"/><rect class="h" width="51" height="5.6"/><text class="t" x="1" y="4.1">deployment_version_item_ba</text><text class="x" x="50.2" y="4">[table]</text><rect class="r" x=".2" y="5.6" width="50.6" height="9.6"/><use href="#k" y="8"/><text class="n" x="3.6" y="9">version_bam_artifact_item_id</text><use href="#q" y="12.8"/><text class="n" x="3.6" y="13.8">artifact_id</text><path class="s" d="M0 17.1H51M20.4 17.1V22.3M40.8 17.1V22.3"/><text class="f" x="1" y="20.8">&lt; 2</text><text class="f e" x="40" y="20.8">0 rows</text></g>
<g id="ao_7a45fb_aotracking_entry" transform="translate(348.3,1423.3)"><rect class="b" width="55" height="22.3"/><rect class="h" width="55" height="5.6"/><text class="t" x="1" y="4.1">ao_7a45fb_aotracking_entry</text><text class="x" x="54.2" y="4">[table]</text><rect class="r" x=".2" y="5.6" width="54.6" height="9.6"/><use href="#k" y="8"/><text class="n" x="3.6" y="9">id</text><text class="n" x="3.6" y="13.8">entity_type</text><path class="s" d="M0 17.1H55M22 17.1V22.3M44 17.1V22.3"/><text class="f e" x="43.2" y="20.8">0 rows</text><text class="f e" x="54.2" y="20.8">2 &gt;</text></g>
<g id="ao_7a45fb_aotracking_result" transform="translate(415,1409)"><rect class="b" width="55.7" height="31.9"/><rect class="h" width="55.7" height="5.6"/><text class="t" x="1" y="4.1">ao_7a45fb_aotracking_result</text><text class="x" x="54.9" y="4">[table]</text><rect class="r" x=".2" y="5.6" width="55.3" height="19.2"/><use href="#k" y="8"/><text class="n" x="3.6" y="9">id</text><use href="#q" y="12.8"/><text class="n" x="3.6" y="13.8">tracking_entry_id</text><text class="n" x="3.6" y="18.6">result_status</text><text class="n" x="3.6" y="23.4">status_number</text><path class="s" d="M0 26.7H55.7M22.3 26.7V31.9M44.6 26.7V31.9"/><text class="f" x="1" y="30.4">&lt; 1</text><text class="f e" x="43.8" y="30.4">0 rows</text></g>
<g id="ao_7a45fb_aotracking_user" transform="translate(415.7,1441.7)"><rect class="b" width="54.3" height="27.1"/><rect class="h" width="54.3" height="5.6"/><text class="t" x="1" y="4.1">ao_7a45fb_aotracking_user</text><text class="x" x="53.5" y="4">[table]</text><rect class="r" x=".2" y="5.6" width="53.9" height="14.4"/><use href="#q" y="8"/><text class="n" x="3.6" y="9">tracking_entry_id</text><text class="n" x="3.6" y="13.8">created_date</text><use href="#k" y="17.6"/><text class="n" x="3.6" y="18.6">user_id</text><path class="s" d="M0 21.9H54.3M21.7 21.9V27.1M43.4 21.9V27.1"/><text class="f" x="1" y="25.6">&lt; 1</text><text class="f e" x="42.6" y="25.6">0 rows</text></g>
<g id="acl_object_identity" transform="translate(357.3,1478.3)"><rect class="b" width="37" height="41.5"/><rect class="h" width="37" height="5.6"/><text class="t" x="1" y="4.1">acl_object_identity</text><text class="x" x="36.2" y="4">[table]</text><rect class="r" x=".2" y="5.6" width="36.6" height="28.8"/><use href="#k" y="8"/><text class="n" x="3.6" y="9">id</text><text class="n" x="3.6" y="13.8">object_id_class</text><text class="n" x="3.6" y="18.6">object_id_identity</text><use href="#q" y="22.4"/><text class="n" x="3.6" y="23.4">parent_object</text><text class="n" x="3.6" y="28.2">owner_type</text><text class="n" x="3.6" y="33">owner_sid</text><path class="s" d="M0 36.3H37M14.8 36.3V41.5M29.6 36.3V41.5"/><text class="f" x="1" y="40">&lt; 1</text><text class="f e" x="28.8" y="40">7 rows</text><text class="f e" x="36.2" y="40">2 &gt;</text></g>
<g id="acl_entry" transform="translate(426.7,1474)"><rect class="b" width="32.6" height="31.9"/><rect class="h" width="32.6" height="5.6"/><text class="t" x="1" y="4.1">acl_entry</text><text class="x" x="31.8" y="4">[table]</text><rect class="r" x=".2" y="5.6" width="32.2" height="19.2"/><use href="#k" y="8"/><text class="n" x="3.6" y="9">id</text><use href="#q" y="12.8"/><text class="n" x="3.6" y="13.8">acl_object_identity</text><text class="n" x="3.6" y="18.6">type</text><text class="n" x="3.6" y="23.4">sid</text><path class="s" d="M0 26.7H32.6M13 26.7V31.9M26.1 26.7V31.9"/><text class="f" x="1" y="30.4">&lt; 1</text><text class="f e" x="25.3" y="30.4">48 rows</text></g>
<g id="stage_variable_context" transform="translate(158.3,1423.3)"><rect class="b" width="43.4" height="27.1"/><rect class="h" width="43.4" height="5.6"/><text class="t" x="1" y="4.1">stage_variable_context</text><text class="x" x="42.6" y="4">[table]</text><rect class="r" x=".2" y="5.6" width="43" height="14.4"/><use href="#k" y="8"/><text class="n" x="3.6" y="9">variable_context_id</text><text class="n" x="3.6" y="13.8">variable_type</text><use href="#q" y="17.6"/><text class="n" x="3.6" y="18.6">stageresult_id</text><path class="s" d="M0 21.9H43.4M17.4 21.9V27.1M34.7 21.9V27.1"/><text class="f" x="1" y="25.6">&lt; 1</text><text class="f e" x="33.9" y="25.6">0 rows</text></g>
<g id="chain_stage_result" transform="translate(102.3,1454.3)"><rect class="b" width="37" height="22.3"/><rect class="h" width="37" height="5.6"/><text class="t" x="1" y="4.1">chain_stage_result</text><text class="x" x="36.2" y="4">[table]</text><rect class="r" x=".2" y="5.6" width="36.6" height="9.6"/><use href="#k" y="8"/><text class="n" x="3.6" y="9">stageresult_id</text><use href="#q" y="12.8"/><text class="n" x="3.6" y="13.8">chainresult_id</text><path class="s" d="M0 17.1H37M14.8 17.1V22.3M29.6 17.1V22.3"/><text class="f" x="1" y="20.8">&lt; 1</text><text class="f e" x="28.8" y="20.8">0 rows</text><text class="f e" x="36.2" y="20.8">2 &gt;</text></g>
<g id="buildresultsummary" transform="translate(156,1459)"><rect class="b" width="48" height="79.9"/><rect class="h" width="48" height="5.6"/><text class="t" x="1" y="4.1">buildresultsummary</text><text class="x" x="47.2" y="4">[table]</text><rect class="r" x=".2" y="5.6" width="47.6" height="67.2"/><use href="#k" y="8"/><text class="n" x="3.6" y="9">buildresultsummary_id</text><text class="n" x="3.6" y="13.8">build_key</text><text class="n" x="3.6" y="18.6">build_number</text><text class="n" x="3.6" y="23.4">build_state</text><text class="n" x="3.6" y="28.2">life_cycle_state</text><text class="n" x="3.6" y="33">build_date</text><text class="n" x="3.6" y="37.8">delta_state</text><text class="n" x="3.6" y="42.6">build_agent_id</text><use href="#q" y="46.4"/><text class="n" x="3.6" y="47.4">stageresult_id</text><text class="n" x="3.6" y="52.2">marked_for_deletion</text><text class="n" x="3.6" y="57">log_size</text><use href="#q" y="60.8"/><text class="n" x="3.6" y="61.8">variable_context_baseline_id</text><use href="#q" y="65.6"/><text class="n" x="3.6" y="66.6">chain_result</text><use href="#q" y="70.4"/><text class="n" x="3.6" y="71.4">mergeresult_id</text><path class="s" d="M0 74.7H48M19.2 74.7V79.9M38.4 74.7V79.9"/><text class="f" x="1" y="78.4">&lt; 4</text><text class="f e" x="37.6" y="78.4">1 rows</text><text class="f e" x="47.2" y="78.4">15 &gt;</text></g>
<g id="merge_result" transform="translate(97.3,1522.3)"><rect class="b" width="46.7" height="17.5"/><rect class="h" width="46.7" height="5.6"/><text class="t" x="1" y="4.1">merge_result</text><text class="x" x="45.9" y="4">[table]</text><rect class="r" x=".2" y="5.6" width="46.3" height="4.8"/><use href="#k" y="8"/><text class="n" x="3.6" y="9">mergeresult_id</text><path class="s" d="M0 12.3H46.7M18.7 12.3V17.5M37.4 12.3V17.5"/><text class="f e" x="36.6" y="16">0 rows</text><text class="f e" x="45.9" y="16">1 &gt;</text></g>
<g id="artifact" transform="translate(166,1609.3)"><rect class="b" width="28.7" height="31.9"/><rect class="h" width="28.7" height="5.6"/><text class="t" x="1" y="4.1">artifact</text><text class="x" x="27.9" y="4">[table]</text><rect class="r" x=".2" y="5.6" width="28.3" height="19.2"/><use href="#k" y="8"/><text class="n" x="3.6" y="9">artifact_id</text><text class="n" x="3.6" y="13.8">label</text><text class="n" x="3.6" y="18.6">plan_key</text><text class="n" x="3.6" y="23.4">build_number</text><path class="s" d="M0 26.7H28.7M11.5 26.7V31.9M23 26.7V31.9"/><text class="f e" x="22.2" y="30.4">0 rows</text><text class="f e" x="27.9" y="30.4">2 &gt;</text></g>
<g id="deployment_version" transform="translate(156.7,1231.7)"><rect class="b" width="47.3" height="31.9"/><rect class="h" width="47.3" height="5.6"/><text class="t" x="1" y="4.1">deployment_version</text><text class="x" x="46.5" y="4">[table]</text><rect class="r" x=".2" y="5.6" width="46.9" height="19.2"/><use href="#k" y="8"/><text class="n" x="3.6" y="9">deployment_version_id</text><text class="n" x="3.6" y="13.8">name</text><use href="#q" y="17.6"/><text class="n" x="3.6" y="18.6">project_id</text><use href="#q" y="22.4"/><text class="n" x="3.6" y="23.4">variable_context_baseline_id</text><path class="s" d="M0 26.7H47.3M18.9 26.7V31.9M37.8 26.7V31.9"/><text class="f" x="1" y="30.4">&lt; 2</text><text class="f e" x="37" y="30.4">0 rows</text><text class="f e" x="46.5" y="30.4">7 &gt;</text></g>
<g id="variable_context_baseline" transform="translate(96.7,1261.7)"><rect class="b" width="47.6" height="22.3"/><rect class="h" width="47.6" height="5.6"/><text class="t" x="1" y="4.1">variable_context_baseline</text><text class="x" x="46.8" y="4">[table]</text><rect class="r" x=".2" y="5.6" width="47.2" height="9.6"/><use href="#k" y="8"/><text class="n" x="3.6" y="9">variable_context_baseline_id</text><text class="n" x="3.6" y="13.8">hash_string</text><path class="s" d="M0 17.1H47.6M19 17.1V22.3M38.1 17.1V22.3"/><text class="f e" x="37.3" y="20.8">0 rows</text><text class="f e" x="46.8" y="20.8">4 &gt;</text></g>
<g id="variable_baseline_item" transform="translate(156.7,1268.3)"><rect class="b" width="47.3" height="27.1"/><rect class="h" width="47.3" height="5.6"/><text class="t" x="1" y="4.1">variable_baseline_item</text><text class="x" x="46.5" y="4">[table]</text><rect class="r" x=".2" y="5.6" width="46.9" height="14.4"/><use href="#k" y="8"/><text class="n" x="3.6" y="9">variable_baseline_item_id</text><text class="n" x="3.6" y="13.8">variable_type</text><use href="#q" y="17.6"/><text class="n" x="3.6" y="18.6">variable_context_baseline_id</text><path class="s" d="M0 21.9H47.3M18.9 21.9V27.1M37.8 21.9V27.1"/><text class="f" x="1" y="25.6">&lt; 1</text><text class="f e" x="37" y="25.6">0 rows</text></g>
<text x="3" y="1643" style="font-size:2.6px;fill:#333">Generated by SchemaSpy</text>
</svg>
